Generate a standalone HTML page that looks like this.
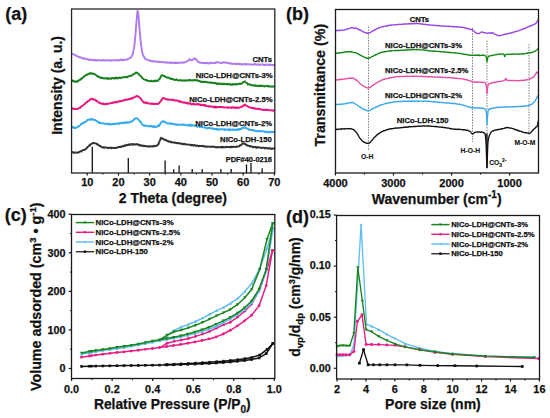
<!DOCTYPE html>
<html><head><meta charset="utf-8"><style>
html,body{margin:0;padding:0;background:#fff;width:550px;height:418px;overflow:hidden}
svg{display:block}
text{font-family:"Liberation Sans", sans-serif;stroke:currentColor;stroke-width:0.25px}
</style></head><body>
<svg width="550" height="418" viewBox="0 0 550 418">
<rect width="550" height="418" fill="#fff"/>
<path d="M72.00,53.80 L72.50,54.10 L73.00,54.19 L73.50,54.26 L74.00,54.59 L74.50,54.68 L75.00,55.17 L75.50,55.71 L76.00,55.48 L76.50,55.67 L77.00,56.19 L77.50,56.39 L78.00,56.58 L78.50,56.56 L79.00,57.03 L79.50,57.44 L80.00,57.16 L80.50,57.60 L81.00,57.43 L81.50,57.76 L82.00,57.78 L82.50,58.32 L83.00,58.20 L83.50,58.71 L84.00,58.80 L84.50,58.84 L85.00,58.37 L85.50,58.98 L86.00,59.20 L86.50,59.34 L87.00,59.02 L87.50,59.37 L88.00,59.32 L88.50,59.44 L89.00,59.97 L89.50,59.55 L90.00,59.79 L90.50,60.06 L91.00,59.73 L91.50,59.89 L92.00,59.98 L92.50,60.00 L93.00,59.71 L93.50,60.07 L94.00,60.42 L94.50,59.72 L95.00,60.35 L95.50,60.19 L96.00,60.02 L96.50,60.70 L97.00,60.41 L97.50,59.94 L98.00,60.27 L98.50,60.41 L99.00,60.23 L99.50,60.46 L100.00,60.28 L100.50,60.48 L101.00,60.68 L101.50,60.16 L102.00,60.38 L102.50,60.22 L103.00,60.38 L103.50,60.06 L104.00,60.21 L104.50,60.32 L105.00,60.60 L105.50,60.66 L106.00,60.05 L106.50,60.19 L107.00,60.55 L107.50,59.89 L108.00,60.28 L108.50,60.37 L109.00,60.71 L109.50,60.57 L110.00,60.32 L110.50,60.31 L111.00,60.33 L111.50,60.77 L112.00,60.28 L112.50,60.30 L113.00,60.45 L113.50,60.32 L114.00,60.29 L114.50,60.05 L115.00,60.30 L115.50,60.18 L116.00,60.56 L116.50,60.42 L117.00,60.23 L117.50,60.38 L118.00,60.11 L118.50,60.43 L119.00,60.14 L119.50,60.27 L120.00,59.78 L120.50,60.16 L121.00,59.63 L121.50,59.51 L122.00,59.92 L122.50,59.73 L123.00,59.96 L123.50,60.44 L124.00,59.63 L124.50,59.63 L125.00,59.78 L125.50,59.79 L126.00,59.56 L126.50,59.46 L127.00,59.57 L127.50,59.38 L128.00,58.82 L128.50,58.86 L129.00,58.66 L129.50,58.14 L130.00,58.16 L130.50,57.49 L131.00,57.45 L131.50,56.64 L132.00,55.86 L132.50,54.69 L133.00,53.14 L133.50,50.42 L134.00,47.91 L134.50,44.87 L135.00,39.26 L135.50,34.34 L136.00,27.60 L136.50,21.62 L137.00,15.58 L137.50,11.03 L138.00,11.38 L138.50,15.65 L139.00,21.87 L139.50,28.66 L140.00,34.23 L140.50,39.70 L141.00,44.46 L141.50,47.73 L142.00,51.22 L142.50,53.22 L143.00,54.99 L143.50,55.91 L144.00,56.88 L144.50,57.47 L145.00,58.69 L145.50,58.76 L146.00,59.37 L146.50,59.43 L147.00,59.52 L147.50,59.85 L148.00,60.01 L148.50,60.34 L149.00,60.41 L149.50,60.58 L150.00,60.44 L150.50,60.70 L151.00,61.41 L151.50,60.92 L152.00,60.91 L152.50,61.33 L153.00,61.67 L153.50,61.02 L154.00,61.40 L154.50,61.35 L155.00,61.12 L155.50,61.80 L156.00,61.66 L156.50,61.73 L157.00,61.57 L157.50,61.91 L158.00,61.71 L158.50,61.85 L159.00,61.64 L159.50,61.66 L160.00,62.33 L160.50,61.91 L161.00,62.15 L161.50,62.11 L162.00,62.04 L162.50,62.06 L163.00,62.38 L163.50,62.18 L164.00,62.25 L164.50,62.32 L165.00,62.64 L165.50,62.55 L166.00,62.50 L166.50,62.29 L167.00,62.11 L167.50,62.72 L168.00,62.75 L168.50,62.50 L169.00,62.69 L169.50,62.77 L170.00,62.81 L170.50,62.85 L171.00,62.53 L171.50,63.04 L172.00,62.37 L172.50,62.92 L173.00,62.85 L173.50,62.97 L174.00,63.24 L174.50,63.16 L175.00,62.52 L175.50,62.40 L176.00,63.05 L176.50,62.60 L177.00,62.87 L177.50,63.09 L178.00,62.48 L178.50,62.37 L179.00,62.96 L179.50,62.91 L180.00,62.83 L180.50,62.89 L181.00,62.64 L181.50,62.45 L182.00,62.75 L182.50,62.50 L183.00,62.28 L183.50,62.75 L184.00,62.54 L184.50,62.58 L185.00,62.15 L185.50,62.09 L186.00,61.76 L186.50,61.47 L187.00,61.39 L187.50,60.80 L188.00,60.65 L188.50,60.11 L189.00,60.06 L189.50,58.96 L190.00,59.67 L190.50,59.88 L191.00,60.37 L191.50,60.24 L192.00,60.28 L192.50,60.13 L193.00,59.48 L193.50,59.09 L194.00,58.53 L194.50,58.55 L195.00,58.26 L195.50,58.32 L196.00,59.58 L196.50,60.01 L197.00,60.12 L197.50,61.21 L198.00,62.04 L198.50,62.04 L199.00,62.00 L199.50,62.26 L200.00,62.88 L200.50,62.70 L201.00,62.73 L201.50,62.76 L202.00,62.83 L202.50,63.07 L203.00,63.05 L203.50,63.01 L204.00,62.73 L204.50,63.15 L205.00,62.89 L205.50,63.36 L206.00,62.79 L206.50,63.10 L207.00,63.15 L207.50,62.83 L208.00,63.61 L208.50,63.55 L209.00,63.08 L209.50,63.39 L210.00,63.29 L210.50,62.54 L211.00,63.24 L211.50,63.13 L212.00,63.13 L212.50,62.79 L213.00,62.94 L213.50,62.90 L214.00,63.18 L214.50,62.90 L215.00,62.74 L215.50,63.05 L216.00,62.46 L216.50,62.41 L217.00,61.92 L217.50,62.63 L218.00,62.38 L218.50,62.33 L219.00,62.36 L219.50,62.44 L220.00,62.74 L220.50,62.84 L221.00,62.95 L221.50,62.96 L222.00,63.20 L222.50,62.79 L223.00,62.47 L223.50,62.21 L224.00,62.14 L224.50,62.72 L225.00,62.50 L225.50,62.48 L226.00,62.49 L226.50,62.42 L227.00,62.82 L227.50,63.19 L228.00,63.01 L228.50,63.18 L229.00,63.29 L229.50,63.47 L230.00,63.10 L230.50,63.48 L231.00,63.37 L231.50,63.84 L232.00,63.46 L232.50,63.84 L233.00,64.10 L233.50,63.68 L234.00,63.63 L234.50,63.86 L235.00,63.84 L235.50,63.61 L236.00,64.00 L236.50,64.41 L237.00,63.86 L237.50,63.90 L238.00,63.71 L238.50,64.07 L239.00,63.69 L239.50,63.75 L240.00,64.36 L240.50,63.84 L241.00,64.35 L241.50,64.48 L242.00,64.18 L242.50,64.28 L243.00,64.64 L243.50,64.12 L244.00,64.04 L244.50,63.87 L245.00,64.23 L245.50,64.61 L246.00,64.49 L246.50,64.03 L247.00,64.07 L247.50,64.17 L248.00,64.38 L248.50,64.27 L249.00,64.39 L249.50,64.43 L250.00,64.29 L250.50,64.37 L251.00,64.44 L251.50,64.38 L252.00,64.54 L252.50,64.90 L253.00,64.59 L253.50,64.47 L254.00,64.05 L254.50,64.58 L255.00,64.01 L255.50,64.16 L256.00,64.74 L256.50,64.72 L257.00,64.52 L257.50,64.14 L258.00,64.49 L258.50,64.43 L259.00,64.77 L259.50,65.19 L260.00,64.69 L260.50,64.45 L261.00,64.37 L261.50,64.66 L262.00,64.65 L262.50,64.41 L263.00,64.74 L263.50,64.44 L264.00,65.02 L264.50,65.02 L265.00,65.04 L265.50,64.66 L266.00,64.92 L266.50,64.77 L267.00,64.72 L267.50,64.75 L268.00,64.52 L268.50,64.50 L269.00,65.07 L269.50,64.83 L270.00,64.95 L270.50,65.16 L271.00,64.49 L271.50,64.73 L272.00,64.99 L272.50,65.05 L273.00,64.87 L273.50,65.24 L274.00,65.04 L274.40,64.70" fill="none" stroke="#b07af0" stroke-width="1.9" stroke-linejoin="round" stroke-linecap="round" />
<path d="M72.00,80.27 L72.50,80.97 L73.00,81.10 L73.50,80.69 L74.00,81.63 L74.50,81.54 L75.00,81.79 L75.50,81.39 L76.00,81.43 L76.50,81.19 L77.00,81.99 L77.50,81.14 L78.00,81.35 L78.50,80.52 L79.00,80.43 L79.50,79.67 L80.00,79.70 L80.50,79.73 L81.00,78.81 L81.50,78.99 L82.00,78.38 L82.50,77.61 L83.00,77.33 L83.50,76.96 L84.00,76.70 L84.50,76.23 L85.00,75.81 L85.50,75.60 L86.00,75.10 L86.50,74.74 L87.00,74.79 L87.50,74.76 L88.00,73.89 L88.50,74.01 L89.00,73.61 L89.50,73.33 L90.00,73.66 L90.50,73.27 L91.00,73.79 L91.50,73.26 L92.00,73.62 L92.50,73.55 L93.00,73.51 L93.50,73.96 L94.00,73.89 L94.50,74.27 L95.00,74.39 L95.50,74.48 L96.00,75.12 L96.50,75.57 L97.00,76.21 L97.50,76.13 L98.00,76.68 L98.50,76.53 L99.00,77.33 L99.50,77.09 L100.00,77.10 L100.50,77.72 L101.00,78.17 L101.50,77.66 L102.00,77.89 L102.50,78.06 L103.00,78.02 L103.50,78.43 L104.00,78.16 L104.50,78.21 L105.00,78.56 L105.50,78.25 L106.00,78.57 L106.50,78.23 L107.00,78.18 L107.50,78.04 L108.00,78.96 L108.50,78.42 L109.00,78.56 L109.50,78.48 L110.00,78.52 L110.50,78.48 L111.00,78.93 L111.50,78.18 L112.00,78.03 L112.50,78.14 L113.00,78.04 L113.50,78.54 L114.00,78.53 L114.50,78.06 L115.00,77.92 L115.50,78.15 L116.00,78.56 L116.50,77.47 L117.00,78.28 L117.50,77.84 L118.00,78.34 L118.50,77.77 L119.00,77.93 L119.50,77.57 L120.00,77.65 L120.50,78.19 L121.00,77.99 L121.50,77.62 L122.00,77.43 L122.50,77.11 L123.00,77.41 L123.50,77.43 L124.00,77.34 L124.50,77.26 L125.00,76.92 L125.50,77.10 L126.00,77.02 L126.50,77.26 L127.00,77.31 L127.50,76.70 L128.00,76.44 L128.50,76.49 L129.00,76.23 L129.50,76.06 L130.00,76.09 L130.50,75.67 L131.00,75.89 L131.50,75.50 L132.00,75.35 L132.50,74.99 L133.00,74.59 L133.50,74.26 L134.00,74.10 L134.50,73.60 L135.00,73.37 L135.50,72.97 L136.00,72.46 L136.50,72.87 L137.00,72.71 L137.50,73.19 L138.00,73.65 L138.50,73.63 L139.00,74.61 L139.50,75.04 L140.00,75.40 L140.50,75.87 L141.00,76.46 L141.50,76.90 L142.00,77.66 L142.50,78.13 L143.00,78.74 L143.50,78.75 L144.00,79.35 L144.50,79.55 L145.00,79.70 L145.50,79.83 L146.00,80.28 L146.50,79.91 L147.00,80.61 L147.50,80.70 L148.00,80.85 L148.50,80.98 L149.00,80.81 L149.50,80.98 L150.00,81.25 L150.50,81.21 L151.00,81.15 L151.50,80.72 L152.00,81.23 L152.50,81.39 L153.00,81.35 L153.50,81.16 L154.00,80.71 L154.50,81.34 L155.00,81.06 L155.50,80.47 L156.00,81.19 L156.50,80.73 L157.00,80.78 L157.50,80.83 L158.00,80.91 L158.50,79.90 L159.00,79.38 L159.50,79.08 L160.00,78.40 L160.50,77.16 L161.00,76.28 L161.50,75.34 L162.00,75.14 L162.50,75.44 L163.00,75.55 L163.50,75.68 L164.00,76.14 L164.50,75.98 L165.00,76.44 L165.50,76.91 L166.00,77.12 L166.50,77.44 L167.00,77.47 L167.50,77.49 L168.00,77.86 L168.50,77.73 L169.00,77.77 L169.50,78.53 L170.00,78.56 L170.50,78.84 L171.00,78.51 L171.50,79.01 L172.00,79.10 L172.50,79.17 L173.00,78.94 L173.50,79.52 L174.00,79.90 L174.50,79.83 L175.00,79.63 L175.50,79.83 L176.00,80.07 L176.50,79.24 L177.00,79.94 L177.50,80.15 L178.00,80.23 L178.50,80.52 L179.00,80.41 L179.50,80.24 L180.00,80.27 L180.50,80.43 L181.00,80.12 L181.50,80.27 L182.00,80.53 L182.50,80.82 L183.00,80.31 L183.50,80.35 L184.00,80.43 L184.50,80.72 L185.00,80.39 L185.50,80.77 L186.00,80.16 L186.50,80.35 L187.00,80.34 L187.50,80.58 L188.00,80.64 L188.50,79.99 L189.00,80.12 L189.50,80.42 L190.00,80.16 L190.50,79.92 L191.00,80.55 L191.50,80.40 L192.00,80.38 L192.50,80.12 L193.00,80.49 L193.50,80.16 L194.00,80.48 L194.50,79.98 L195.00,79.99 L195.50,80.26 L196.00,80.07 L196.50,80.49 L197.00,80.49 L197.50,80.33 L198.00,80.71 L198.50,80.75 L199.00,81.20 L199.50,80.94 L200.00,81.09 L200.50,81.59 L201.00,81.93 L201.50,81.96 L202.00,81.55 L202.50,81.67 L203.00,82.08 L203.50,81.74 L204.00,81.60 L204.50,81.95 L205.00,82.11 L205.50,81.86 L206.00,81.72 L206.50,81.84 L207.00,82.43 L207.50,82.14 L208.00,82.36 L208.50,82.51 L209.00,82.67 L209.50,82.49 L210.00,82.76 L210.50,82.47 L211.00,82.66 L211.50,82.55 L212.00,83.15 L212.50,82.91 L213.00,82.79 L213.50,82.94 L214.00,83.03 L214.50,83.31 L215.00,82.79 L215.50,82.98 L216.00,83.19 L216.50,83.97 L217.00,83.62 L217.50,83.40 L218.00,83.65 L218.50,84.03 L219.00,83.51 L219.50,83.51 L220.00,83.95 L220.50,83.81 L221.00,83.89 L221.50,83.64 L222.00,84.28 L222.50,84.26 L223.00,84.01 L223.50,84.08 L224.00,83.44 L224.50,84.15 L225.00,83.98 L225.50,84.17 L226.00,84.27 L226.50,84.05 L227.00,83.75 L227.50,84.30 L228.00,84.06 L228.50,84.20 L229.00,84.16 L229.50,84.25 L230.00,83.79 L230.50,84.70 L231.00,84.48 L231.50,84.72 L232.00,84.95 L232.50,84.48 L233.00,84.03 L233.50,84.27 L234.00,84.20 L234.50,84.37 L235.00,84.51 L235.50,83.97 L236.00,84.51 L236.50,84.00 L237.00,84.39 L237.50,84.21 L238.00,84.09 L238.50,84.06 L239.00,83.87 L239.50,83.75 L240.00,83.36 L240.50,83.64 L241.00,83.94 L241.50,83.80 L242.00,83.37 L242.50,82.84 L243.00,82.09 L243.50,82.24 L244.00,81.59 L244.50,81.48 L245.00,81.55 L245.50,81.97 L246.00,82.29 L246.50,82.87 L247.00,83.08 L247.50,83.61 L248.00,84.48 L248.50,84.08 L249.00,84.20 L249.50,84.56 L250.00,84.75 L250.50,84.44 L251.00,84.79 L251.50,85.20 L252.00,85.15 L252.50,85.21 L253.00,85.67 L253.50,85.19 L254.00,85.46 L254.50,85.38 L255.00,85.94 L255.50,85.13 L256.00,85.50 L256.50,85.58 L257.00,85.92 L257.50,85.95 L258.00,86.18 L258.50,85.47 L259.00,86.09 L259.50,85.86 L260.00,85.80 L260.50,86.13 L261.00,85.79 L261.50,85.52 L262.00,85.97 L262.50,85.72 L263.00,85.95 L263.50,86.23 L264.00,86.24 L264.50,86.58 L265.00,86.15 L265.50,85.84 L266.00,86.05 L266.50,86.03 L267.00,85.98 L267.50,86.41 L268.00,86.16 L268.50,85.84 L269.00,86.53 L269.50,86.34 L270.00,86.48 L270.50,86.43 L271.00,86.58 L271.50,86.44 L272.00,86.76 L272.50,86.57 L273.00,86.57 L273.50,86.59 L274.00,86.13 L274.40,86.46" fill="none" stroke="#16801c" stroke-width="1.9" stroke-linejoin="round" stroke-linecap="round" />
<path d="M72.00,108.34 L72.50,108.65 L73.00,108.41 L73.50,109.28 L74.00,108.99 L74.50,108.72 L75.00,108.64 L75.50,109.02 L76.00,109.07 L76.50,108.92 L77.00,109.11 L77.50,108.81 L78.00,108.89 L78.50,108.29 L79.00,108.14 L79.50,108.06 L80.00,108.14 L80.50,106.95 L81.00,106.76 L81.50,106.33 L82.00,106.38 L82.50,105.53 L83.00,105.33 L83.50,105.07 L84.00,104.45 L84.50,104.05 L85.00,103.75 L85.50,102.91 L86.00,102.65 L86.50,102.49 L87.00,102.22 L87.50,101.75 L88.00,100.96 L88.50,100.85 L89.00,100.72 L89.50,100.22 L90.00,99.65 L90.50,99.11 L91.00,99.23 L91.50,98.78 L92.00,98.61 L92.50,98.76 L93.00,99.42 L93.50,99.25 L94.00,99.63 L94.50,99.38 L95.00,99.93 L95.50,99.82 L96.00,100.25 L96.50,101.29 L97.00,101.25 L97.50,101.35 L98.00,101.86 L98.50,102.35 L99.00,102.93 L99.50,102.82 L100.00,102.75 L100.50,103.29 L101.00,103.46 L101.50,103.56 L102.00,103.94 L102.50,103.76 L103.00,103.95 L103.50,103.52 L104.00,104.06 L104.50,104.40 L105.00,104.09 L105.50,103.96 L106.00,103.93 L106.50,104.32 L107.00,103.61 L107.50,103.76 L108.00,103.85 L108.50,103.85 L109.00,103.48 L109.50,103.58 L110.00,103.34 L110.50,103.33 L111.00,103.16 L111.50,102.80 L112.00,102.96 L112.50,103.06 L113.00,102.48 L113.50,102.54 L114.00,102.64 L114.50,102.08 L115.00,102.27 L115.50,101.83 L116.00,102.26 L116.50,102.44 L117.00,102.25 L117.50,101.59 L118.00,101.72 L118.50,101.47 L119.00,101.36 L119.50,101.62 L120.00,100.80 L120.50,101.29 L121.00,100.90 L121.50,101.16 L122.00,100.75 L122.50,100.43 L123.00,100.56 L123.50,100.56 L124.00,100.27 L124.50,100.27 L125.00,99.91 L125.50,99.39 L126.00,100.03 L126.50,99.87 L127.00,99.61 L127.50,99.47 L128.00,99.59 L128.50,99.11 L129.00,98.93 L129.50,98.94 L130.00,99.17 L130.50,98.40 L131.00,98.92 L131.50,98.32 L132.00,98.06 L132.50,98.49 L133.00,97.98 L133.50,97.44 L134.00,97.37 L134.50,97.35 L135.00,97.06 L135.50,96.33 L136.00,96.28 L136.50,96.21 L137.00,95.85 L137.50,96.25 L138.00,96.41 L138.50,96.63 L139.00,97.01 L139.50,97.52 L140.00,97.92 L140.50,98.27 L141.00,98.89 L141.50,99.89 L142.00,100.28 L142.50,101.05 L143.00,101.67 L143.50,101.97 L144.00,102.73 L144.50,102.16 L145.00,102.73 L145.50,102.60 L146.00,103.27 L146.50,103.35 L147.00,102.55 L147.50,102.89 L148.00,103.38 L148.50,103.50 L149.00,103.55 L149.50,103.42 L150.00,103.61 L150.50,103.72 L151.00,103.60 L151.50,103.94 L152.00,103.18 L152.50,103.96 L153.00,103.59 L153.50,104.14 L154.00,103.89 L154.50,103.77 L155.00,104.12 L155.50,103.83 L156.00,103.85 L156.50,103.70 L157.00,104.09 L157.50,104.17 L158.00,104.08 L158.50,103.44 L159.00,103.28 L159.50,102.50 L160.00,101.91 L160.50,101.50 L161.00,101.06 L161.50,99.99 L162.00,99.12 L162.50,98.38 L163.00,98.12 L163.50,97.93 L164.00,98.54 L164.50,98.37 L165.00,98.79 L165.50,98.65 L166.00,99.09 L166.50,99.20 L167.00,99.09 L167.50,99.79 L168.00,99.46 L168.50,99.89 L169.00,99.76 L169.50,99.42 L170.00,99.56 L170.50,99.84 L171.00,99.81 L171.50,99.88 L172.00,99.88 L172.50,99.58 L173.00,100.06 L173.50,99.66 L174.00,100.40 L174.50,100.22 L175.00,100.33 L175.50,100.55 L176.00,100.78 L176.50,100.46 L177.00,100.49 L177.50,100.77 L178.00,100.63 L178.50,101.01 L179.00,101.76 L179.50,101.21 L180.00,101.74 L180.50,101.34 L181.00,101.87 L181.50,101.82 L182.00,101.99 L182.50,102.25 L183.00,102.65 L183.50,102.37 L184.00,102.47 L184.50,102.30 L185.00,102.81 L185.50,102.72 L186.00,103.10 L186.50,103.00 L187.00,103.56 L187.50,102.74 L188.00,103.27 L188.50,103.67 L189.00,103.46 L189.50,103.45 L190.00,103.67 L190.50,103.48 L191.00,103.93 L191.50,104.58 L192.00,104.32 L192.50,103.81 L193.00,103.92 L193.50,104.08 L194.00,104.47 L194.50,104.04 L195.00,104.11 L195.50,104.53 L196.00,104.55 L196.50,104.27 L197.00,104.11 L197.50,104.03 L198.00,104.27 L198.50,103.92 L199.00,104.70 L199.50,104.40 L200.00,104.72 L200.50,105.12 L201.00,105.02 L201.50,104.52 L202.00,105.12 L202.50,105.30 L203.00,104.93 L203.50,104.99 L204.00,105.32 L204.50,105.07 L205.00,105.96 L205.50,105.12 L206.00,105.56 L206.50,105.89 L207.00,106.01 L207.50,106.21 L208.00,106.33 L208.50,106.30 L209.00,106.71 L209.50,105.95 L210.00,106.53 L210.50,106.39 L211.00,106.64 L211.50,106.70 L212.00,106.46 L212.50,106.56 L213.00,106.95 L213.50,106.87 L214.00,106.64 L214.50,107.35 L215.00,107.45 L215.50,106.53 L216.00,107.00 L216.50,107.58 L217.00,107.17 L217.50,107.05 L218.00,106.97 L218.50,106.91 L219.00,107.01 L219.50,106.95 L220.00,107.30 L220.50,107.03 L221.00,107.04 L221.50,106.88 L222.00,107.19 L222.50,107.00 L223.00,107.20 L223.50,107.53 L224.00,107.39 L224.50,107.45 L225.00,107.44 L225.50,107.40 L226.00,107.38 L226.50,107.36 L227.00,107.65 L227.50,107.22 L228.00,107.85 L228.50,107.54 L229.00,107.37 L229.50,107.46 L230.00,107.43 L230.50,107.66 L231.00,107.46 L231.50,107.94 L232.00,107.47 L232.50,107.11 L233.00,107.50 L233.50,107.19 L234.00,107.69 L234.50,107.96 L235.00,107.86 L235.50,107.35 L236.00,107.47 L236.50,108.08 L237.00,107.68 L237.50,107.56 L238.00,107.78 L238.50,108.07 L239.00,107.72 L239.50,107.37 L240.00,107.35 L240.50,107.33 L241.00,106.94 L241.50,106.74 L242.00,106.82 L242.50,106.21 L243.00,105.99 L243.50,105.57 L244.00,105.73 L244.50,104.66 L245.00,104.77 L245.50,104.90 L246.00,105.34 L246.50,105.89 L247.00,105.93 L247.50,106.26 L248.00,106.40 L248.50,106.80 L249.00,107.33 L249.50,107.36 L250.00,107.24 L250.50,107.54 L251.00,107.77 L251.50,108.01 L252.00,107.86 L252.50,108.05 L253.00,107.76 L253.50,108.03 L254.00,108.81 L254.50,107.95 L255.00,108.49 L255.50,108.71 L256.00,108.64 L256.50,108.60 L257.00,108.85 L257.50,108.93 L258.00,108.98 L258.50,108.59 L259.00,109.09 L259.50,108.97 L260.00,109.11 L260.50,109.37 L261.00,109.53 L261.50,109.66 L262.00,109.37 L262.50,109.78 L263.00,109.90 L263.50,109.95 L264.00,110.06 L264.50,109.73 L265.00,109.78 L265.50,110.08 L266.00,109.58 L266.50,110.02 L267.00,109.88 L267.50,109.97 L268.00,109.66 L268.50,109.92 L269.00,110.17 L269.50,110.43 L270.00,110.49 L270.50,110.25 L271.00,110.25 L271.50,110.11 L272.00,110.44 L272.50,110.30 L273.00,110.53 L273.50,110.83 L274.00,110.39 L274.40,110.03" fill="none" stroke="#e8167c" stroke-width="1.9" stroke-linejoin="round" stroke-linecap="round" />
<path d="M72.00,126.58 L72.50,126.78 L73.00,127.11 L73.50,127.94 L74.00,127.81 L74.50,127.46 L75.00,128.05 L75.50,128.22 L76.00,127.73 L76.50,127.44 L77.00,127.22 L77.50,127.01 L78.00,126.70 L78.50,126.44 L79.00,126.10 L79.50,125.77 L80.00,125.47 L80.50,124.94 L81.00,124.03 L81.50,124.03 L82.00,123.79 L82.50,123.28 L83.00,123.28 L83.50,122.67 L84.00,122.24 L84.50,122.54 L85.00,122.05 L85.50,121.63 L86.00,121.50 L86.50,121.23 L87.00,120.76 L87.50,119.79 L88.00,119.98 L88.50,119.80 L89.00,119.47 L89.50,119.60 L90.00,119.72 L90.50,119.22 L91.00,119.02 L91.50,119.82 L92.00,119.24 L92.50,119.12 L93.00,119.58 L93.50,119.72 L94.00,119.55 L94.50,120.07 L95.00,119.95 L95.50,120.09 L96.00,120.65 L96.50,121.10 L97.00,121.07 L97.50,121.62 L98.00,121.82 L98.50,122.82 L99.00,122.19 L99.50,122.91 L100.00,122.69 L100.50,122.78 L101.00,123.09 L101.50,123.24 L102.00,123.43 L102.50,123.29 L103.00,123.15 L103.50,123.25 L104.00,123.60 L104.50,123.70 L105.00,123.98 L105.50,123.81 L106.00,124.03 L106.50,124.21 L107.00,123.92 L107.50,123.56 L108.00,123.68 L108.50,123.66 L109.00,124.44 L109.50,123.86 L110.00,124.40 L110.50,124.24 L111.00,124.53 L111.50,124.35 L112.00,124.06 L112.50,124.02 L113.00,124.07 L113.50,124.06 L114.00,123.85 L114.50,123.94 L115.00,124.31 L115.50,123.43 L116.00,123.87 L116.50,123.53 L117.00,123.75 L117.50,123.85 L118.00,123.57 L118.50,123.71 L119.00,123.05 L119.50,123.66 L120.00,123.17 L120.50,123.40 L121.00,123.22 L121.50,122.46 L122.00,122.85 L122.50,123.02 L123.00,123.29 L123.50,122.90 L124.00,122.83 L124.50,122.35 L125.00,123.00 L125.50,123.03 L126.00,122.52 L126.50,122.40 L127.00,121.99 L127.50,122.55 L128.00,122.94 L128.50,122.37 L129.00,122.43 L129.50,122.16 L130.00,121.68 L130.50,122.15 L131.00,121.39 L131.50,121.52 L132.00,121.41 L132.50,121.22 L133.00,120.68 L133.50,120.22 L134.00,119.47 L134.50,118.91 L135.00,118.89 L135.50,118.44 L136.00,118.18 L136.50,118.23 L137.00,118.61 L137.50,118.57 L138.00,119.07 L138.50,119.42 L139.00,120.32 L139.50,120.80 L140.00,121.70 L140.50,121.47 L141.00,122.40 L141.50,123.55 L142.00,124.00 L142.50,124.60 L143.00,125.61 L143.50,125.39 L144.00,125.30 L144.50,125.36 L145.00,125.87 L145.50,125.94 L146.00,125.59 L146.50,125.75 L147.00,126.18 L147.50,126.24 L148.00,125.98 L148.50,126.34 L149.00,126.37 L149.50,125.82 L150.00,126.22 L150.50,126.44 L151.00,126.24 L151.50,125.88 L152.00,126.39 L152.50,126.68 L153.00,126.93 L153.50,126.02 L154.00,127.25 L154.50,126.34 L155.00,126.89 L155.50,126.98 L156.00,126.93 L156.50,126.73 L157.00,126.41 L157.50,126.77 L158.00,126.12 L158.50,125.20 L159.00,125.99 L159.50,124.89 L160.00,124.58 L160.50,123.07 L161.00,122.78 L161.50,122.08 L162.00,121.70 L162.50,121.33 L163.00,121.14 L163.50,121.58 L164.00,121.29 L164.50,121.65 L165.00,122.34 L165.50,122.29 L166.00,122.68 L166.50,122.82 L167.00,123.43 L167.50,123.38 L168.00,123.15 L168.50,123.56 L169.00,123.16 L169.50,123.36 L170.00,123.76 L170.50,123.31 L171.00,123.63 L171.50,123.45 L172.00,123.88 L172.50,124.34 L173.00,123.81 L173.50,124.13 L174.00,123.91 L174.50,123.91 L175.00,123.95 L175.50,124.68 L176.00,124.96 L176.50,124.55 L177.00,124.30 L177.50,124.70 L178.00,124.49 L178.50,124.82 L179.00,124.73 L179.50,124.77 L180.00,124.89 L180.50,124.63 L181.00,124.70 L181.50,124.40 L182.00,124.75 L182.50,124.53 L183.00,124.88 L183.50,124.70 L184.00,124.98 L184.50,125.09 L185.00,124.65 L185.50,124.82 L186.00,124.80 L186.50,125.25 L187.00,125.51 L187.50,125.31 L188.00,125.04 L188.50,125.51 L189.00,124.79 L189.50,125.57 L190.00,125.06 L190.50,124.56 L191.00,125.95 L191.50,125.71 L192.00,125.09 L192.50,125.43 L193.00,125.38 L193.50,125.51 L194.00,125.18 L194.50,125.45 L195.00,125.81 L195.50,125.83 L196.00,126.17 L196.50,125.98 L197.00,126.64 L197.50,125.98 L198.00,126.33 L198.50,125.89 L199.00,126.16 L199.50,126.91 L200.00,126.45 L200.50,126.93 L201.00,126.88 L201.50,126.74 L202.00,127.01 L202.50,127.07 L203.00,127.17 L203.50,127.56 L204.00,127.62 L204.50,127.39 L205.00,127.37 L205.50,127.73 L206.00,127.70 L206.50,128.05 L207.00,128.52 L207.50,128.13 L208.00,127.98 L208.50,128.01 L209.00,127.90 L209.50,127.95 L210.00,127.99 L210.50,128.20 L211.00,128.25 L211.50,128.61 L212.00,128.38 L212.50,128.49 L213.00,128.29 L213.50,129.07 L214.00,128.84 L214.50,129.21 L215.00,129.02 L215.50,129.24 L216.00,128.86 L216.50,129.15 L217.00,129.70 L217.50,128.76 L218.00,129.40 L218.50,129.58 L219.00,129.30 L219.50,129.42 L220.00,129.59 L220.50,129.14 L221.00,129.44 L221.50,129.14 L222.00,129.22 L222.50,129.26 L223.00,129.41 L223.50,129.50 L224.00,129.60 L224.50,129.13 L225.00,130.01 L225.50,129.82 L226.00,129.72 L226.50,129.45 L227.00,129.53 L227.50,129.71 L228.00,129.68 L228.50,129.16 L229.00,129.79 L229.50,130.36 L230.00,129.14 L230.50,129.88 L231.00,129.73 L231.50,129.62 L232.00,130.00 L232.50,129.36 L233.00,129.71 L233.50,130.05 L234.00,129.63 L234.50,129.58 L235.00,129.72 L235.50,129.58 L236.00,130.09 L236.50,129.46 L237.00,129.92 L237.50,129.38 L238.00,129.87 L238.50,129.63 L239.00,128.90 L239.50,129.43 L240.00,129.00 L240.50,128.99 L241.00,129.31 L241.50,128.34 L242.00,127.98 L242.50,128.24 L243.00,127.58 L243.50,127.73 L244.00,127.39 L244.50,127.15 L245.00,127.50 L245.50,128.02 L246.00,128.17 L246.50,128.19 L247.00,128.48 L247.50,128.72 L248.00,128.87 L248.50,129.76 L249.00,129.48 L249.50,129.36 L250.00,129.65 L250.50,130.07 L251.00,130.15 L251.50,130.05 L252.00,130.01 L252.50,130.28 L253.00,129.93 L253.50,130.11 L254.00,130.74 L254.50,130.48 L255.00,130.78 L255.50,131.07 L256.00,130.99 L256.50,130.89 L257.00,131.50 L257.50,131.18 L258.00,130.98 L258.50,131.31 L259.00,131.28 L259.50,131.01 L260.00,131.30 L260.50,131.29 L261.00,130.87 L261.50,131.38 L262.00,131.40 L262.50,131.41 L263.00,131.15 L263.50,131.52 L264.00,131.65 L264.50,131.73 L265.00,131.46 L265.50,131.95 L266.00,131.52 L266.50,131.81 L267.00,132.25 L267.50,131.77 L268.00,131.85 L268.50,132.30 L269.00,131.95 L269.50,132.01 L270.00,132.17 L270.50,132.41 L271.00,131.60 L271.50,131.98 L272.00,131.96 L272.50,131.96 L273.00,132.04 L273.50,132.06 L274.00,132.37 L274.40,132.07" fill="none" stroke="#34abef" stroke-width="1.9" stroke-linejoin="round" stroke-linecap="round" />
<path d="M72.00,152.03 L72.50,152.29 L73.00,152.15 L73.50,152.49 L74.00,152.96 L74.50,152.69 L75.00,152.49 L75.50,152.66 L76.00,152.46 L76.50,152.77 L77.00,152.91 L77.50,152.42 L78.00,152.45 L78.50,152.61 L79.00,151.99 L79.50,151.94 L80.00,151.39 L80.50,151.21 L81.00,151.07 L81.50,151.54 L82.00,150.68 L82.50,150.44 L83.00,150.21 L83.50,150.07 L84.00,150.02 L84.50,149.64 L85.00,149.81 L85.50,149.02 L86.00,148.95 L86.50,148.24 L87.00,147.88 L87.50,146.91 L88.00,146.79 L88.50,146.38 L89.00,145.94 L89.50,145.06 L90.00,145.37 L90.50,144.59 L91.00,144.13 L91.50,143.77 L92.00,143.43 L92.50,143.34 L93.00,142.79 L93.50,142.88 L94.00,143.24 L94.50,143.30 L95.00,143.30 L95.50,143.40 L96.00,143.49 L96.50,143.85 L97.00,144.35 L97.50,144.05 L98.00,145.00 L98.50,145.19 L99.00,145.24 L99.50,145.94 L100.00,145.76 L100.50,146.06 L101.00,146.50 L101.50,147.01 L102.00,147.25 L102.50,147.34 L103.00,147.56 L103.50,147.05 L104.00,147.76 L104.50,147.33 L105.00,147.57 L105.50,147.67 L106.00,147.52 L106.50,147.51 L107.00,147.63 L107.50,147.91 L108.00,148.08 L108.50,148.09 L109.00,147.72 L109.50,147.79 L110.00,147.76 L110.50,148.11 L111.00,147.49 L111.50,148.30 L112.00,147.86 L112.50,147.76 L113.00,148.01 L113.50,148.14 L114.00,147.92 L114.50,148.04 L115.00,147.76 L115.50,147.96 L116.00,147.90 L116.50,147.49 L117.00,147.80 L117.50,147.40 L118.00,147.29 L118.50,146.96 L119.00,147.03 L119.50,147.20 L120.00,146.59 L120.50,146.99 L121.00,146.83 L121.50,146.72 L122.00,146.01 L122.50,146.43 L123.00,146.50 L123.50,146.01 L124.00,146.07 L124.50,145.30 L125.00,145.90 L125.50,145.40 L126.00,145.62 L126.50,144.78 L127.00,145.26 L127.50,144.89 L128.00,145.02 L128.50,144.48 L129.00,144.46 L129.50,145.10 L130.00,144.29 L130.50,144.29 L131.00,144.37 L131.50,144.16 L132.00,144.69 L132.50,144.80 L133.00,144.17 L133.50,143.90 L134.00,144.61 L134.50,144.59 L135.00,144.51 L135.50,144.59 L136.00,144.10 L136.50,144.31 L137.00,144.07 L137.50,144.14 L138.00,144.83 L138.50,144.53 L139.00,145.39 L139.50,144.96 L140.00,144.91 L140.50,145.41 L141.00,145.79 L141.50,145.59 L142.00,145.29 L142.50,145.80 L143.00,146.15 L143.50,145.76 L144.00,145.77 L144.50,146.29 L145.00,146.15 L145.50,145.92 L146.00,146.17 L146.50,146.13 L147.00,146.44 L147.50,146.42 L148.00,146.69 L148.50,146.58 L149.00,146.01 L149.50,146.49 L150.00,146.61 L150.50,146.49 L151.00,146.63 L151.50,146.22 L152.00,146.11 L152.50,146.56 L153.00,146.04 L153.50,145.75 L154.00,146.52 L154.50,146.06 L155.00,146.13 L155.50,145.82 L156.00,145.80 L156.50,145.80 L157.00,145.75 L157.50,145.47 L158.00,144.23 L158.50,144.12 L159.00,142.44 L159.50,141.31 L160.00,140.37 L160.50,138.84 L161.00,137.74 L161.50,138.60 L162.00,138.08 L162.50,138.60 L163.00,138.86 L163.50,139.46 L164.00,139.25 L164.50,139.83 L165.00,139.59 L165.50,140.26 L166.00,139.99 L166.50,140.30 L167.00,141.06 L167.50,140.87 L168.00,141.01 L168.50,141.74 L169.00,141.45 L169.50,141.34 L170.00,141.90 L170.50,141.58 L171.00,142.31 L171.50,142.47 L172.00,142.16 L172.50,142.26 L173.00,142.56 L173.50,142.62 L174.00,142.46 L174.50,142.93 L175.00,142.36 L175.50,142.84 L176.00,142.92 L176.50,143.03 L177.00,143.24 L177.50,142.92 L178.00,143.44 L178.50,143.31 L179.00,143.25 L179.50,143.13 L180.00,143.24 L180.50,143.68 L181.00,143.40 L181.50,143.71 L182.00,144.02 L182.50,144.06 L183.00,144.25 L183.50,143.84 L184.00,143.70 L184.50,144.28 L185.00,144.16 L185.50,144.42 L186.00,144.20 L186.50,144.56 L187.00,144.54 L187.50,144.57 L188.00,144.58 L188.50,144.62 L189.00,144.64 L189.50,144.71 L190.00,144.97 L190.50,144.66 L191.00,145.29 L191.50,144.90 L192.00,145.24 L192.50,145.04 L193.00,145.07 L193.50,145.71 L194.00,145.19 L194.50,145.01 L195.00,145.22 L195.50,145.38 L196.00,146.07 L196.50,145.64 L197.00,145.89 L197.50,145.46 L198.00,145.86 L198.50,146.00 L199.00,146.34 L199.50,145.77 L200.00,146.14 L200.50,146.12 L201.00,145.84 L201.50,146.14 L202.00,146.12 L202.50,145.65 L203.00,146.42 L203.50,146.44 L204.00,146.23 L204.50,146.04 L205.00,146.77 L205.50,146.49 L206.00,146.71 L206.50,146.83 L207.00,146.38 L207.50,146.74 L208.00,146.50 L208.50,146.57 L209.00,146.59 L209.50,146.64 L210.00,146.94 L210.50,146.72 L211.00,146.68 L211.50,146.67 L212.00,146.85 L212.50,146.56 L213.00,146.68 L213.50,146.82 L214.00,146.71 L214.50,146.84 L215.00,146.74 L215.50,147.41 L216.00,147.26 L216.50,147.06 L217.00,146.95 L217.50,147.53 L218.00,147.07 L218.50,146.99 L219.00,147.10 L219.50,147.11 L220.00,147.40 L220.50,147.05 L221.00,147.59 L221.50,146.85 L222.00,147.26 L222.50,146.84 L223.00,147.55 L223.50,147.01 L224.00,147.08 L224.50,147.33 L225.00,147.41 L225.50,146.82 L226.00,147.01 L226.50,146.75 L227.00,147.13 L227.50,147.06 L228.00,146.99 L228.50,146.90 L229.00,146.97 L229.50,146.87 L230.00,147.18 L230.50,147.42 L231.00,146.54 L231.50,146.98 L232.00,146.89 L232.50,147.10 L233.00,146.73 L233.50,146.91 L234.00,146.67 L234.50,147.08 L235.00,146.91 L235.50,146.82 L236.00,146.93 L236.50,146.74 L237.00,146.36 L237.50,146.78 L238.00,146.52 L238.50,146.19 L239.00,146.24 L239.50,146.05 L240.00,145.23 L240.50,145.02 L241.00,145.23 L241.50,144.81 L242.00,143.92 L242.50,143.54 L243.00,143.54 L243.50,143.60 L244.00,143.43 L244.50,144.00 L245.00,143.89 L245.50,144.16 L246.00,144.95 L246.50,144.82 L247.00,145.24 L247.50,145.65 L248.00,145.89 L248.50,145.74 L249.00,145.95 L249.50,145.85 L250.00,146.60 L250.50,146.44 L251.00,146.10 L251.50,146.48 L252.00,146.75 L252.50,146.79 L253.00,147.21 L253.50,147.18 L254.00,146.79 L254.50,146.98 L255.00,146.76 L255.50,147.21 L256.00,147.26 L256.50,147.96 L257.00,147.38 L257.50,146.89 L258.00,147.30 L258.50,147.56 L259.00,147.27 L259.50,147.42 L260.00,147.59 L260.50,147.81 L261.00,147.73 L261.50,147.60 L262.00,148.06 L262.50,147.77 L263.00,147.83 L263.50,147.65 L264.00,147.84 L264.50,148.24 L265.00,147.72 L265.50,148.14 L266.00,148.38 L266.50,148.14 L267.00,148.33 L267.50,148.03 L268.00,148.67 L268.50,148.65 L269.00,148.46 L269.50,147.99 L270.00,148.20 L270.50,148.73 L271.00,148.94 L271.50,148.60 L272.00,148.86 L272.50,148.41 L273.00,148.53 L273.50,148.59 L274.00,148.70 L274.40,148.22" fill="none" stroke="#333333" stroke-width="1.9" stroke-linejoin="round" stroke-linecap="round" />
<line x1="92.30" y1="146.70" x2="92.30" y2="173.00" stroke="#111" stroke-width="1.3" />
<line x1="128.30" y1="158.10" x2="128.30" y2="173.00" stroke="#111" stroke-width="1.3" />
<line x1="165.10" y1="160.50" x2="165.10" y2="173.00" stroke="#111" stroke-width="1.3" />
<line x1="173.70" y1="169.20" x2="173.70" y2="173.00" stroke="#111" stroke-width="1.3" />
<line x1="179.10" y1="165.60" x2="179.10" y2="173.00" stroke="#111" stroke-width="1.3" />
<line x1="192.20" y1="168.90" x2="192.20" y2="173.00" stroke="#111" stroke-width="1.3" />
<line x1="202.20" y1="168.90" x2="202.20" y2="173.00" stroke="#111" stroke-width="1.3" />
<line x1="220.90" y1="168.90" x2="220.90" y2="173.00" stroke="#111" stroke-width="1.3" />
<line x1="231.20" y1="168.90" x2="231.20" y2="173.00" stroke="#111" stroke-width="1.3" />
<line x1="246.50" y1="164.40" x2="246.50" y2="173.00" stroke="#111" stroke-width="1.3" />
<line x1="251.00" y1="163.10" x2="251.00" y2="173.00" stroke="#111" stroke-width="1.3" />
<line x1="262.20" y1="168.30" x2="262.20" y2="173.00" stroke="#111" stroke-width="1.3" />
<rect x="71.55" y="9.0" width="203.25" height="164.00" fill="none" stroke="#262626" stroke-width="1.3"/>
<line x1="87.30" y1="173.00" x2="87.30" y2="175.60" stroke="#1a1a1a" stroke-width="1.2" />
<text x="87.30" y="186.2" font-size="11.0" text-anchor="middle" fill="#111" color="#111" font-weight="bold" >10</text>
<line x1="118.48" y1="173.00" x2="118.48" y2="175.60" stroke="#1a1a1a" stroke-width="1.2" />
<text x="118.48" y="186.2" font-size="11.0" text-anchor="middle" fill="#111" color="#111" font-weight="bold" >20</text>
<line x1="149.66" y1="173.00" x2="149.66" y2="175.60" stroke="#1a1a1a" stroke-width="1.2" />
<text x="149.66" y="186.2" font-size="11.0" text-anchor="middle" fill="#111" color="#111" font-weight="bold" >30</text>
<line x1="180.84" y1="173.00" x2="180.84" y2="175.60" stroke="#1a1a1a" stroke-width="1.2" />
<text x="180.84" y="186.2" font-size="11.0" text-anchor="middle" fill="#111" color="#111" font-weight="bold" >40</text>
<line x1="212.02" y1="173.00" x2="212.02" y2="175.60" stroke="#1a1a1a" stroke-width="1.2" />
<text x="212.02" y="186.2" font-size="11.0" text-anchor="middle" fill="#111" color="#111" font-weight="bold" >50</text>
<line x1="243.20" y1="173.00" x2="243.20" y2="175.60" stroke="#1a1a1a" stroke-width="1.2" />
<text x="243.20" y="186.2" font-size="11.0" text-anchor="middle" fill="#111" color="#111" font-weight="bold" >60</text>
<line x1="274.38" y1="173.00" x2="274.38" y2="175.60" stroke="#1a1a1a" stroke-width="1.2" />
<text x="274.38" y="186.2" font-size="11.0" text-anchor="middle" fill="#111" color="#111" font-weight="bold" >70</text>
<line x1="102.89" y1="173.00" x2="102.89" y2="174.60" stroke="#1a1a1a" stroke-width="1.0" />
<line x1="134.07" y1="173.00" x2="134.07" y2="174.60" stroke="#1a1a1a" stroke-width="1.0" />
<line x1="165.25" y1="173.00" x2="165.25" y2="174.60" stroke="#1a1a1a" stroke-width="1.0" />
<line x1="196.43" y1="173.00" x2="196.43" y2="174.60" stroke="#1a1a1a" stroke-width="1.0" />
<line x1="227.61" y1="173.00" x2="227.61" y2="174.60" stroke="#1a1a1a" stroke-width="1.0" />
<line x1="258.79" y1="173.00" x2="258.79" y2="174.60" stroke="#1a1a1a" stroke-width="1.0" />
<text x="272.0" y="62.0" font-size="7.7" text-anchor="end" fill="#111" color="#111" font-weight="bold" >CNTs</text>
<text x="272.6" y="78.0" font-size="7.7" text-anchor="end" fill="#111" color="#111" font-weight="bold" >NiCo-LDH@CNTs-3%</text>
<text x="272.6" y="102.0" font-size="7.7" text-anchor="end" fill="#111" color="#111" font-weight="bold" >NiCo-LDH@CNTs-2.5%</text>
<text x="272.2" y="125.6" font-size="7.7" text-anchor="end" fill="#111" color="#111" font-weight="bold" >NiCo-LDH@CNTs-2%</text>
<text x="271.8" y="142.0" font-size="7.7" text-anchor="end" fill="#111" color="#111" font-weight="bold" >NiCo-LDH-150</text>
<text x="272.0" y="161.6" font-size="7.45" text-anchor="end" fill="#111" color="#111" font-weight="bold" >PDF#40-0216</text>
<text x="172.8" y="202.6" font-size="14" text-anchor="middle" fill="#111" color="#111" font-weight="bold" >2 Theta (degree)</text>
<text transform="translate(61.6,85.4) rotate(-90)" font-size="14" text-anchor="middle" fill="#111" color="#111" font-weight="bold" >Intensity (a. u.)</text>
<text x="5.3" y="19.9" font-size="18" text-anchor="start" fill="#111" color="#111" font-weight="bold" >(a)</text>
<line x1="368.50" y1="26.50" x2="368.50" y2="151.00" stroke="#555" stroke-width="0.75" stroke-dasharray="1.5,1.2"/>
<line x1="472.50" y1="27.70" x2="472.50" y2="142.00" stroke="#555" stroke-width="0.75" stroke-dasharray="1.5,1.2"/>
<line x1="487.00" y1="40.60" x2="487.00" y2="160.00" stroke="#555" stroke-width="0.75" stroke-dasharray="1.5,1.2"/>
<line x1="529.00" y1="44.10" x2="529.00" y2="136.30" stroke="#555" stroke-width="0.75" stroke-dasharray="1.5,1.2"/>
<path d="M335.80,30.71 L336.20,30.76 L336.60,30.45 L337.00,30.42 L337.40,30.61 L337.80,30.47 L338.20,30.24 L338.60,30.60 L339.00,30.49 L339.40,30.39 L339.80,30.66 L340.20,30.39 L340.60,30.25 L341.00,30.31 L341.40,30.13 L341.80,30.12 L342.20,30.21 L342.60,30.05 L343.00,30.02 L343.40,30.22 L343.80,30.08 L344.20,30.01 L344.60,29.90 L345.00,29.80 L345.40,29.82 L345.80,29.54 L346.20,29.65 L346.60,29.20 L347.00,29.17 L347.40,28.92 L347.80,28.93 L348.20,28.92 L348.60,28.92 L349.00,28.56 L349.40,28.54 L349.80,28.38 L350.20,28.21 L350.60,28.02 L351.00,27.95 L351.40,27.49 L351.80,27.54 L352.20,27.55 L352.60,27.74 L353.00,28.05 L353.40,28.22 L353.80,28.58 L354.20,28.06 L354.60,28.26 L355.00,28.07 L355.40,28.00 L355.80,28.00 L356.20,28.40 L356.60,28.64 L357.00,28.46 L357.40,28.70 L357.80,29.04 L358.20,29.15 L358.60,29.55 L359.00,29.44 L359.40,29.76 L359.80,29.75 L360.20,30.36 L360.60,30.23 L361.00,30.27 L361.40,30.73 L361.80,30.95 L362.20,31.40 L362.60,31.34 L363.00,31.57 L363.40,31.82 L363.80,32.11 L364.20,32.07 L364.60,32.36 L365.00,32.47 L365.40,32.54 L365.80,32.74 L366.20,32.89 L366.60,32.91 L367.00,33.28 L367.40,33.06 L367.80,33.42 L368.20,33.41 L368.60,33.25 L369.00,33.07 L369.40,32.98 L369.80,32.86 L370.20,32.66 L370.60,32.35 L371.00,32.17 L371.40,31.72 L371.80,31.56 L372.20,31.12 L372.60,31.19 L373.00,30.91 L373.40,30.63 L373.80,30.60 L374.20,30.32 L374.60,29.68 L375.00,29.80 L375.40,29.40 L375.80,29.48 L376.20,29.43 L376.60,28.86 L377.00,28.72 L377.40,28.48 L377.80,28.37 L378.20,28.22 L378.60,28.13 L379.00,27.69 L379.40,27.86 L379.80,27.42 L380.20,27.44 L380.60,27.42 L381.00,27.25 L381.40,26.93 L381.80,26.85 L382.20,26.76 L382.60,26.71 L383.00,26.75 L383.40,26.35 L383.80,26.47 L384.20,26.39 L384.60,26.29 L385.00,26.19 L385.40,26.24 L385.80,26.03 L386.20,26.00 L386.60,25.89 L387.00,25.97 L387.40,25.46 L387.80,25.78 L388.20,25.54 L388.60,25.48 L389.00,25.34 L389.40,25.18 L389.80,25.31 L390.20,25.22 L390.60,25.31 L391.00,25.03 L391.40,25.33 L391.80,25.15 L392.20,25.04 L392.60,24.94 L393.00,24.89 L393.40,24.81 L393.80,24.84 L394.20,24.87 L394.60,24.81 L395.00,24.62 L395.40,24.72 L395.80,24.61 L396.20,24.70 L396.60,24.88 L397.00,24.69 L397.40,24.55 L397.80,24.36 L398.20,24.36 L398.60,24.29 L399.00,24.56 L399.40,24.35 L399.80,24.42 L400.20,24.31 L400.60,24.37 L401.00,24.50 L401.40,24.22 L401.80,24.24 L402.20,24.15 L402.60,24.33 L403.00,24.07 L403.40,24.03 L403.80,23.97 L404.20,23.95 L404.60,24.14 L405.00,24.37 L405.40,23.92 L405.80,24.12 L406.20,24.01 L406.60,23.83 L407.00,23.90 L407.40,23.88 L407.80,23.80 L408.20,24.09 L408.60,23.61 L409.00,23.87 L409.40,23.84 L409.80,23.71 L410.20,23.78 L410.60,23.85 L411.00,23.74 L411.40,23.76 L411.80,23.77 L412.20,23.43 L412.60,23.84 L413.00,23.92 L413.40,23.76 L413.80,23.75 L414.20,23.45 L414.60,23.60 L415.00,23.51 L415.40,23.53 L415.80,23.72 L416.20,23.50 L416.60,23.59 L417.00,23.38 L417.40,23.60 L417.80,23.64 L418.20,23.56 L418.60,23.58 L419.00,23.92 L419.40,23.58 L419.80,23.64 L420.20,23.70 L420.60,23.98 L421.00,24.13 L421.40,23.96 L421.80,23.88 L422.20,23.97 L422.60,24.20 L423.00,24.01 L423.40,24.35 L423.80,24.40 L424.20,24.29 L424.60,24.41 L425.00,24.48 L425.40,24.63 L425.80,24.37 L426.20,24.70 L426.60,24.56 L427.00,24.57 L427.40,24.72 L427.80,24.74 L428.20,24.69 L428.60,24.67 L429.00,24.79 L429.40,25.12 L429.80,25.22 L430.20,25.10 L430.60,25.20 L431.00,25.03 L431.40,25.12 L431.80,25.19 L432.20,25.06 L432.60,25.11 L433.00,25.28 L433.40,25.26 L433.80,25.20 L434.20,25.41 L434.60,25.37 L435.00,25.55 L435.40,25.46 L435.80,25.46 L436.20,25.54 L436.60,25.54 L437.00,25.51 L437.40,25.58 L437.80,25.75 L438.20,25.77 L438.60,25.87 L439.00,25.55 L439.40,25.74 L439.80,25.76 L440.20,25.86 L440.60,25.82 L441.00,25.84 L441.40,26.03 L441.80,25.99 L442.20,25.85 L442.60,26.18 L443.00,26.17 L443.40,26.01 L443.80,26.21 L444.20,26.05 L444.60,26.31 L445.00,26.17 L445.40,26.13 L445.80,26.21 L446.20,26.19 L446.60,26.33 L447.00,26.35 L447.40,26.36 L447.80,26.31 L448.20,25.96 L448.60,26.43 L449.00,26.22 L449.40,26.49 L449.80,26.62 L450.20,26.54 L450.60,26.48 L451.00,26.52 L451.40,26.55 L451.80,26.52 L452.20,26.54 L452.60,26.52 L453.00,26.79 L453.40,26.67 L453.80,26.80 L454.20,26.68 L454.60,26.74 L455.00,26.73 L455.40,26.83 L455.80,26.90 L456.20,26.86 L456.60,26.77 L457.00,26.79 L457.40,27.11 L457.80,26.90 L458.20,26.93 L458.60,27.17 L459.00,27.16 L459.40,27.13 L459.80,27.05 L460.20,27.42 L460.60,27.22 L461.00,27.28 L461.40,27.24 L461.80,27.13 L462.20,27.19 L462.60,27.46 L463.00,27.53 L463.40,27.53 L463.80,27.51 L464.20,27.57 L464.60,27.80 L465.00,27.77 L465.40,28.16 L465.80,28.30 L466.20,28.61 L466.60,28.49 L467.00,28.43 L467.40,28.51 L467.80,28.31 L468.20,28.75 L468.60,28.91 L469.00,29.14 L469.40,29.18 L469.80,29.26 L470.20,29.29 L470.60,29.42 L471.00,29.59 L471.40,29.38 L471.80,29.55 L472.20,29.56 L472.60,30.06 L473.00,30.22 L473.40,30.50 L473.80,30.70 L474.20,31.36 L474.60,31.80 L475.00,32.28 L475.40,32.60 L475.80,32.91 L476.20,32.96 L476.60,33.27 L477.00,33.34 L477.40,33.39 L477.80,33.51 L478.20,33.53 L478.60,33.70 L479.00,33.49 L479.40,33.37 L479.80,33.02 L480.20,32.60 L480.60,32.60 L481.00,32.13 L481.40,32.20 L481.80,32.16 L482.20,31.96 L482.60,32.12 L483.00,32.28 L483.40,32.35 L483.80,32.41 L484.20,32.73 L484.60,32.72 L485.00,32.91 L485.40,32.92 L485.80,33.11 L486.20,33.06 L486.60,33.19 L487.00,33.27 L487.40,33.19 L487.80,33.12 L488.20,33.02 L488.60,33.14 L489.00,33.13 L489.40,33.02 L489.80,32.93 L490.20,33.05 L490.60,33.26 L491.00,32.90 L491.40,32.95 L491.80,32.95 L492.20,32.60 L492.60,32.99 L493.00,33.03 L493.40,33.48 L493.80,33.52 L494.20,33.72 L494.60,34.05 L495.00,34.34 L495.40,34.47 L495.80,34.69 L496.20,34.67 L496.60,34.94 L497.00,35.19 L497.40,35.46 L497.80,35.43 L498.20,35.47 L498.60,35.66 L499.00,35.70 L499.40,35.80 L499.80,35.72 L500.20,35.55 L500.60,35.54 L501.00,35.45 L501.40,35.38 L501.80,35.26 L502.20,35.03 L502.60,34.75 L503.00,34.80 L503.40,34.52 L503.80,34.65 L504.20,34.53 L504.60,34.22 L505.00,34.41 L505.40,34.34 L505.80,34.16 L506.20,34.25 L506.60,34.19 L507.00,33.73 L507.40,33.90 L507.80,33.74 L508.20,33.65 L508.60,33.61 L509.00,33.32 L509.40,33.24 L509.80,33.12 L510.20,33.03 L510.60,33.01 L511.00,32.74 L511.40,32.69 L511.80,32.78 L512.20,32.59 L512.60,32.54 L513.00,32.15 L513.40,32.17 L513.80,32.08 L514.20,32.03 L514.60,31.84 L515.00,31.90 L515.40,31.66 L515.80,31.54 L516.20,31.41 L516.60,31.37 L517.00,31.10 L517.40,31.16 L517.80,30.95 L518.20,30.78 L518.60,30.63 L519.00,30.55 L519.40,30.47 L519.80,30.32 L520.20,30.11 L520.60,30.03 L521.00,29.80 L521.40,29.79 L521.80,29.49 L522.20,29.10 L522.60,29.36 L523.00,29.06 L523.40,28.76 L523.80,28.72 L524.20,28.48 L524.60,28.69 L525.00,28.33 L525.40,27.92 L525.80,28.01 L526.20,27.73 L526.60,27.85 L527.00,27.32 L527.40,27.01 L527.80,27.11 L528.20,26.89 L528.60,26.71 L529.00,26.32 L529.40,26.45 L529.80,26.42 L530.20,25.81 L530.60,26.00 L531.00,25.61 L531.40,25.77 L531.80,25.36 L532.20,25.12 L532.60,25.11 L533.00,24.88 L533.40,24.59 L533.80,24.57 L534.20,24.25 L534.60,23.90 L535.00,24.13 L535.40,23.60 L535.80,23.28 L536.20,23.06 L536.60,22.35 L537.00,21.78 L537.40,21.19 L537.80,20.43 L538.20,19.71 L538.30,19.63" fill="none" stroke="#9745ea" stroke-width="1.35" stroke-linejoin="round" stroke-linecap="round" />
<path d="M335.80,53.14 L336.20,53.23 L336.60,53.21 L337.00,52.98 L337.40,53.11 L337.80,52.93 L338.20,53.13 L338.60,53.02 L339.00,52.93 L339.40,52.73 L339.80,52.86 L340.20,52.71 L340.60,52.85 L341.00,52.70 L341.40,52.57 L341.80,52.73 L342.20,52.66 L342.60,52.45 L343.00,52.59 L343.40,52.34 L343.80,52.26 L344.20,52.23 L344.60,52.04 L345.00,51.99 L345.40,51.94 L345.80,52.07 L346.20,51.99 L346.60,51.72 L347.00,51.89 L347.40,51.64 L347.80,51.66 L348.20,51.71 L348.60,51.64 L349.00,51.90 L349.40,51.66 L349.80,51.52 L350.20,51.86 L350.60,51.70 L351.00,51.77 L351.40,51.51 L351.80,52.06 L352.20,52.11 L352.60,52.19 L353.00,52.29 L353.40,52.47 L353.80,52.35 L354.20,52.56 L354.60,52.46 L355.00,52.61 L355.40,52.88 L355.80,52.90 L356.20,52.82 L356.60,53.18 L357.00,53.29 L357.40,53.41 L357.80,53.76 L358.20,53.88 L358.60,53.97 L359.00,54.26 L359.40,54.84 L359.80,54.68 L360.20,55.11 L360.60,55.38 L361.00,55.59 L361.40,55.56 L361.80,55.85 L362.20,56.10 L362.60,56.37 L363.00,56.41 L363.40,56.56 L363.80,57.03 L364.20,57.25 L364.60,57.36 L365.00,57.44 L365.40,57.74 L365.80,57.88 L366.20,58.12 L366.60,58.00 L367.00,58.27 L367.40,58.31 L367.80,58.25 L368.20,58.43 L368.60,58.37 L369.00,58.22 L369.40,58.16 L369.80,57.75 L370.20,57.69 L370.60,57.51 L371.00,57.24 L371.40,57.08 L371.80,56.57 L372.20,56.32 L372.60,56.34 L373.00,56.17 L373.40,56.18 L373.80,55.80 L374.20,55.42 L374.60,55.42 L375.00,55.02 L375.40,54.74 L375.80,55.03 L376.20,54.55 L376.60,54.39 L377.00,54.18 L377.40,54.13 L377.80,53.76 L378.20,53.69 L378.60,53.24 L379.00,53.02 L379.40,53.20 L379.80,53.05 L380.20,52.78 L380.60,52.61 L381.00,52.48 L381.40,52.26 L381.80,52.43 L382.20,52.24 L382.60,52.13 L383.00,52.03 L383.40,52.03 L383.80,51.89 L384.20,51.84 L384.60,51.54 L385.00,51.67 L385.40,51.81 L385.80,51.41 L386.20,51.40 L386.60,51.46 L387.00,51.41 L387.40,51.31 L387.80,50.99 L388.20,51.19 L388.60,50.94 L389.00,50.94 L389.40,51.06 L389.80,50.92 L390.20,51.01 L390.60,51.26 L391.00,50.94 L391.40,50.90 L391.80,50.68 L392.20,50.68 L392.60,50.61 L393.00,50.65 L393.40,50.56 L393.80,50.59 L394.20,50.62 L394.60,50.51 L395.00,50.44 L395.40,50.43 L395.80,50.63 L396.20,50.57 L396.60,50.67 L397.00,50.65 L397.40,50.47 L397.80,50.58 L398.20,50.31 L398.60,50.74 L399.00,50.59 L399.40,50.40 L399.80,50.27 L400.20,50.44 L400.60,50.15 L401.00,50.25 L401.40,50.42 L401.80,50.31 L402.20,50.22 L402.60,50.37 L403.00,50.11 L403.40,50.24 L403.80,50.12 L404.20,50.05 L404.60,50.18 L405.00,49.98 L405.40,50.30 L405.80,49.98 L406.20,50.26 L406.60,49.86 L407.00,50.04 L407.40,49.80 L407.80,49.75 L408.20,49.91 L408.60,49.95 L409.00,49.69 L409.40,49.96 L409.80,49.70 L410.20,49.79 L410.60,49.80 L411.00,49.80 L411.40,49.50 L411.80,49.89 L412.20,49.75 L412.60,49.61 L413.00,49.53 L413.40,49.44 L413.80,49.47 L414.20,49.68 L414.60,49.57 L415.00,49.47 L415.40,49.54 L415.80,49.79 L416.20,49.56 L416.60,49.53 L417.00,49.77 L417.40,49.68 L417.80,49.64 L418.20,49.58 L418.60,49.49 L419.00,49.56 L419.40,49.67 L419.80,49.73 L420.20,49.82 L420.60,49.88 L421.00,49.88 L421.40,49.91 L421.80,49.80 L422.20,49.71 L422.60,49.94 L423.00,49.93 L423.40,50.01 L423.80,50.10 L424.20,50.03 L424.60,50.09 L425.00,50.26 L425.40,50.33 L425.80,50.28 L426.20,50.47 L426.60,50.43 L427.00,50.37 L427.40,50.55 L427.80,50.81 L428.20,50.54 L428.60,50.81 L429.00,50.87 L429.40,50.93 L429.80,50.68 L430.20,51.06 L430.60,50.87 L431.00,50.86 L431.40,50.89 L431.80,51.03 L432.20,51.00 L432.60,51.00 L433.00,51.21 L433.40,51.00 L433.80,51.00 L434.20,51.25 L434.60,51.28 L435.00,51.36 L435.40,51.13 L435.80,51.42 L436.20,51.38 L436.60,51.57 L437.00,51.24 L437.40,51.45 L437.80,51.42 L438.20,51.30 L438.60,51.44 L439.00,51.69 L439.40,51.53 L439.80,51.53 L440.20,51.76 L440.60,51.80 L441.00,51.84 L441.40,51.66 L441.80,51.78 L442.20,51.94 L442.60,51.77 L443.00,51.79 L443.40,52.02 L443.80,52.14 L444.20,51.85 L444.60,51.71 L445.00,51.88 L445.40,51.97 L445.80,52.10 L446.20,52.23 L446.60,52.17 L447.00,52.14 L447.40,52.28 L447.80,52.18 L448.20,52.32 L448.60,52.29 L449.00,52.72 L449.40,52.53 L449.80,52.37 L450.20,52.39 L450.60,52.49 L451.00,52.38 L451.40,52.53 L451.80,52.57 L452.20,52.80 L452.60,52.68 L453.00,52.68 L453.40,52.65 L453.80,52.71 L454.20,52.88 L454.60,52.90 L455.00,53.10 L455.40,52.93 L455.80,53.17 L456.20,53.12 L456.60,53.13 L457.00,52.93 L457.40,53.06 L457.80,53.35 L458.20,53.47 L458.60,53.37 L459.00,53.48 L459.40,53.38 L459.80,53.43 L460.20,53.44 L460.60,53.69 L461.00,53.67 L461.40,53.66 L461.80,53.71 L462.20,53.88 L462.60,53.92 L463.00,53.85 L463.40,54.23 L463.80,54.13 L464.20,54.18 L464.60,54.43 L465.00,54.45 L465.40,54.39 L465.80,54.54 L466.20,54.42 L466.60,54.55 L467.00,54.43 L467.40,54.91 L467.80,54.61 L468.20,54.98 L468.60,54.86 L469.00,54.90 L469.40,55.05 L469.80,55.15 L470.20,55.24 L470.60,55.41 L471.00,55.28 L471.40,55.37 L471.80,55.21 L472.20,55.38 L472.60,55.32 L473.00,55.24 L473.40,55.29 L473.80,55.29 L474.20,55.32 L474.60,55.35 L475.00,55.24 L475.40,55.21 L475.80,55.39 L476.20,55.10 L476.60,55.23 L477.00,55.49 L477.40,54.98 L477.80,55.22 L478.20,55.38 L478.60,55.10 L479.00,55.61 L479.40,54.99 L479.80,55.47 L480.20,55.49 L480.60,55.41 L481.00,55.27 L481.40,55.34 L481.80,55.19 L482.20,55.40 L482.60,55.17 L483.00,55.27 L483.40,55.42 L483.80,55.17 L484.20,55.28 L484.60,55.45 L485.00,55.45 L485.40,56.01 L485.80,56.24 L486.20,56.83 L486.60,58.49 L487.00,61.79 L487.40,60.01 L487.80,57.75 L488.20,56.57 L488.60,56.40 L489.00,56.04 L489.40,56.14 L489.80,55.92 L490.20,55.93 L490.60,55.67 L491.00,55.58 L491.40,55.41 L491.80,55.52 L492.20,55.47 L492.60,55.53 L493.00,55.34 L493.40,55.13 L493.80,54.99 L494.20,54.98 L494.60,54.85 L495.00,54.96 L495.40,54.82 L495.80,54.54 L496.20,54.49 L496.60,54.68 L497.00,54.49 L497.40,54.37 L497.80,54.49 L498.20,54.26 L498.60,54.23 L499.00,54.17 L499.40,53.96 L499.80,54.27 L500.20,53.99 L500.60,54.05 L501.00,54.02 L501.40,54.19 L501.80,54.09 L502.20,54.11 L502.60,53.93 L503.00,54.16 L503.40,54.05 L503.80,54.34 L504.20,55.33 L504.60,56.52 L505.00,56.28 L505.40,54.75 L505.80,54.46 L506.20,54.38 L506.60,54.32 L507.00,54.44 L507.40,54.44 L507.80,54.14 L508.20,54.41 L508.60,54.34 L509.00,54.38 L509.40,54.31 L509.80,54.10 L510.20,54.10 L510.60,54.45 L511.00,54.26 L511.40,54.05 L511.80,54.26 L512.20,54.17 L512.60,53.99 L513.00,53.94 L513.40,54.01 L513.80,54.24 L514.20,54.20 L514.60,54.17 L515.00,54.23 L515.40,54.26 L515.80,53.93 L516.20,54.15 L516.60,54.08 L517.00,54.02 L517.40,54.10 L517.80,54.14 L518.20,54.11 L518.60,53.96 L519.00,54.06 L519.40,54.35 L519.80,53.97 L520.20,53.87 L520.60,54.08 L521.00,54.09 L521.40,54.04 L521.80,53.82 L522.20,54.03 L522.60,53.78 L523.00,53.69 L523.40,53.71 L523.80,53.72 L524.20,53.76 L524.60,53.70 L525.00,53.56 L525.40,53.62 L525.80,53.46 L526.20,53.49 L526.60,53.15 L527.00,53.07 L527.40,53.29 L527.80,52.96 L528.20,53.03 L528.60,52.99 L529.00,52.88 L529.40,52.81 L529.80,52.96 L530.20,52.41 L530.60,52.74 L531.00,52.83 L531.40,52.46 L531.80,52.36 L532.20,52.35 L532.60,52.37 L533.00,51.89 L533.40,51.91 L533.80,51.73 L534.20,51.65 L534.60,51.41 L535.00,51.27 L535.40,50.91 L535.80,50.73 L536.20,50.39 L536.60,50.08 L537.00,49.80 L537.40,49.43 L537.80,48.90 L538.20,48.80 L538.30,48.48" fill="none" stroke="#138a14" stroke-width="1.35" stroke-linejoin="round" stroke-linecap="round" />
<path d="M335.80,79.83 L336.20,80.09 L336.60,79.82 L337.00,79.93 L337.40,79.82 L337.80,79.81 L338.20,79.76 L338.60,79.62 L339.00,79.65 L339.40,79.84 L339.80,79.28 L340.20,79.51 L340.60,79.51 L341.00,79.28 L341.40,79.20 L341.80,79.57 L342.20,79.22 L342.60,79.47 L343.00,79.24 L343.40,79.13 L343.80,79.13 L344.20,79.10 L344.60,79.12 L345.00,78.98 L345.40,78.89 L345.80,78.85 L346.20,78.94 L346.60,78.81 L347.00,78.53 L347.40,78.51 L347.80,78.56 L348.20,78.37 L348.60,78.33 L349.00,78.19 L349.40,78.21 L349.80,78.23 L350.20,78.24 L350.60,78.08 L351.00,78.29 L351.40,78.01 L351.80,78.39 L352.20,78.13 L352.60,78.13 L353.00,78.12 L353.40,77.99 L353.80,78.51 L354.20,78.76 L354.60,79.21 L355.00,79.07 L355.40,79.73 L355.80,79.72 L356.20,80.09 L356.60,79.95 L357.00,80.56 L357.40,80.82 L357.80,81.29 L358.20,81.58 L358.60,81.81 L359.00,82.44 L359.40,82.80 L359.80,83.18 L360.20,83.62 L360.60,84.01 L361.00,84.24 L361.40,84.43 L361.80,84.75 L362.20,85.37 L362.60,85.57 L363.00,85.73 L363.40,85.90 L363.80,86.20 L364.20,86.45 L364.60,86.64 L365.00,86.83 L365.40,87.40 L365.80,87.37 L366.20,87.45 L366.60,87.53 L367.00,87.73 L367.40,88.00 L367.80,88.07 L368.20,87.97 L368.60,87.97 L369.00,87.83 L369.40,87.58 L369.80,87.67 L370.20,87.32 L370.60,87.31 L371.00,86.63 L371.40,86.39 L371.80,86.20 L372.20,85.75 L372.60,85.31 L373.00,85.07 L373.40,84.93 L373.80,84.72 L374.20,84.43 L374.60,84.32 L375.00,84.07 L375.40,83.73 L375.80,83.44 L376.20,83.15 L376.60,82.99 L377.00,82.77 L377.40,82.42 L377.80,82.21 L378.20,81.87 L378.60,81.50 L379.00,81.31 L379.40,81.30 L379.80,81.04 L380.20,80.97 L380.60,80.59 L381.00,80.50 L381.40,80.39 L381.80,80.19 L382.20,79.86 L382.60,79.77 L383.00,79.68 L383.40,79.42 L383.80,79.47 L384.20,79.41 L384.60,79.12 L385.00,79.30 L385.40,78.92 L385.80,78.82 L386.20,78.72 L386.60,78.56 L387.00,78.60 L387.40,78.46 L387.80,78.56 L388.20,78.35 L388.60,78.25 L389.00,78.08 L389.40,77.85 L389.80,77.93 L390.20,77.76 L390.60,77.90 L391.00,77.71 L391.40,77.84 L391.80,77.65 L392.20,77.59 L392.60,77.44 L393.00,77.36 L393.40,77.34 L393.80,77.30 L394.20,77.02 L394.60,77.09 L395.00,77.28 L395.40,76.88 L395.80,76.79 L396.20,76.68 L396.60,76.52 L397.00,76.78 L397.40,76.60 L397.80,76.58 L398.20,76.72 L398.60,76.77 L399.00,76.33 L399.40,76.54 L399.80,76.48 L400.20,76.45 L400.60,76.45 L401.00,76.38 L401.40,76.57 L401.80,76.45 L402.20,76.41 L402.60,76.52 L403.00,76.47 L403.40,76.42 L403.80,76.40 L404.20,76.56 L404.60,76.41 L405.00,76.34 L405.40,76.24 L405.80,76.30 L406.20,76.21 L406.60,76.35 L407.00,76.36 L407.40,76.08 L407.80,76.33 L408.20,76.40 L408.60,76.34 L409.00,76.20 L409.40,76.47 L409.80,76.23 L410.20,76.17 L410.60,76.18 L411.00,76.31 L411.40,76.43 L411.80,76.45 L412.20,76.33 L412.60,76.16 L413.00,76.22 L413.40,76.19 L413.80,76.28 L414.20,76.09 L414.60,76.31 L415.00,76.38 L415.40,76.28 L415.80,76.36 L416.20,76.19 L416.60,76.13 L417.00,76.23 L417.40,76.45 L417.80,76.44 L418.20,76.27 L418.60,76.47 L419.00,76.30 L419.40,76.53 L419.80,76.42 L420.20,76.32 L420.60,76.48 L421.00,76.30 L421.40,76.30 L421.80,76.25 L422.20,76.47 L422.60,76.45 L423.00,76.46 L423.40,76.44 L423.80,76.68 L424.20,76.48 L424.60,76.46 L425.00,76.71 L425.40,76.75 L425.80,76.64 L426.20,76.41 L426.60,76.57 L427.00,76.73 L427.40,76.68 L427.80,76.89 L428.20,76.55 L428.60,76.82 L429.00,76.68 L429.40,76.93 L429.80,76.78 L430.20,76.93 L430.60,76.75 L431.00,76.67 L431.40,76.73 L431.80,76.80 L432.20,76.77 L432.60,77.06 L433.00,77.09 L433.40,76.98 L433.80,76.84 L434.20,76.96 L434.60,76.91 L435.00,77.19 L435.40,77.07 L435.80,77.10 L436.20,77.01 L436.60,76.84 L437.00,77.00 L437.40,76.98 L437.80,77.18 L438.20,77.16 L438.60,77.07 L439.00,77.14 L439.40,77.39 L439.80,77.10 L440.20,77.13 L440.60,77.23 L441.00,77.19 L441.40,77.24 L441.80,77.38 L442.20,77.54 L442.60,77.14 L443.00,77.37 L443.40,77.40 L443.80,77.40 L444.20,77.41 L444.60,77.41 L445.00,77.59 L445.40,77.44 L445.80,77.50 L446.20,77.54 L446.60,77.57 L447.00,77.56 L447.40,77.73 L447.80,77.63 L448.20,77.68 L448.60,77.67 L449.00,77.58 L449.40,77.63 L449.80,77.63 L450.20,77.80 L450.60,77.72 L451.00,77.71 L451.40,77.89 L451.80,77.95 L452.20,77.71 L452.60,78.15 L453.00,77.98 L453.40,78.00 L453.80,78.17 L454.20,78.08 L454.60,78.03 L455.00,78.40 L455.40,78.04 L455.80,78.19 L456.20,78.34 L456.60,78.14 L457.00,78.30 L457.40,78.39 L457.80,78.67 L458.20,78.31 L458.60,78.45 L459.00,78.58 L459.40,78.55 L459.80,78.43 L460.20,78.67 L460.60,78.68 L461.00,78.77 L461.40,78.91 L461.80,78.95 L462.20,78.94 L462.60,78.99 L463.00,78.89 L463.40,79.08 L463.80,79.19 L464.20,79.20 L464.60,79.34 L465.00,79.32 L465.40,79.69 L465.80,79.86 L466.20,79.65 L466.60,79.84 L467.00,79.87 L467.40,80.15 L467.80,80.16 L468.20,80.23 L468.60,80.31 L469.00,80.47 L469.40,80.46 L469.80,80.79 L470.20,80.75 L470.60,81.04 L471.00,81.20 L471.40,81.56 L471.80,81.67 L472.20,81.99 L472.60,81.88 L473.00,82.10 L473.40,82.02 L473.80,82.10 L474.20,82.10 L474.60,82.22 L475.00,81.88 L475.40,82.18 L475.80,81.97 L476.20,82.30 L476.60,81.93 L477.00,82.05 L477.40,81.97 L477.80,82.37 L478.20,82.03 L478.60,82.20 L479.00,82.12 L479.40,81.98 L479.80,82.16 L480.20,82.28 L480.60,82.19 L481.00,82.33 L481.40,82.18 L481.80,82.24 L482.20,82.21 L482.60,82.31 L483.00,82.52 L483.40,82.36 L483.80,82.36 L484.20,82.29 L484.60,82.31 L485.00,82.80 L485.40,83.04 L485.80,83.89 L486.20,85.29 L486.60,88.09 L487.00,93.62 L487.40,89.97 L487.80,86.70 L488.20,84.89 L488.60,84.12 L489.00,83.88 L489.40,83.81 L489.80,83.78 L490.20,83.32 L490.60,83.10 L491.00,83.28 L491.40,83.23 L491.80,82.90 L492.20,82.58 L492.60,82.93 L493.00,82.65 L493.40,82.73 L493.80,82.51 L494.20,82.40 L494.60,82.31 L495.00,82.46 L495.40,82.37 L495.80,81.84 L496.20,81.89 L496.60,82.14 L497.00,81.81 L497.40,81.62 L497.80,81.72 L498.20,81.65 L498.60,81.60 L499.00,81.50 L499.40,81.46 L499.80,81.39 L500.20,81.43 L500.60,81.23 L501.00,81.22 L501.40,81.17 L501.80,81.26 L502.20,81.05 L502.60,80.89 L503.00,80.85 L503.40,80.70 L503.80,80.63 L504.20,80.39 L504.60,80.36 L505.00,79.82 L505.40,78.73 L505.80,78.40 L506.20,79.36 L506.60,80.28 L507.00,80.40 L507.40,80.25 L507.80,80.22 L508.20,80.50 L508.60,80.56 L509.00,80.58 L509.40,80.34 L509.80,80.63 L510.20,80.45 L510.60,80.57 L511.00,80.58 L511.40,80.44 L511.80,80.48 L512.20,80.31 L512.60,80.45 L513.00,80.35 L513.40,80.62 L513.80,80.58 L514.20,80.69 L514.60,80.63 L515.00,80.51 L515.40,80.63 L515.80,80.54 L516.20,80.67 L516.60,80.63 L517.00,80.48 L517.40,80.60 L517.80,80.61 L518.20,80.56 L518.60,80.71 L519.00,80.81 L519.40,80.56 L519.80,80.56 L520.20,80.32 L520.60,80.57 L521.00,80.51 L521.40,80.28 L521.80,80.55 L522.20,80.55 L522.60,80.35 L523.00,80.35 L523.40,80.23 L523.80,80.39 L524.20,80.06 L524.60,80.14 L525.00,80.35 L525.40,80.05 L525.80,80.03 L526.20,79.88 L526.60,79.68 L527.00,79.74 L527.40,79.71 L527.80,79.45 L528.20,79.53 L528.60,79.55 L529.00,79.43 L529.40,78.98 L529.80,78.90 L530.20,78.65 L530.60,78.79 L531.00,78.52 L531.40,78.31 L531.80,77.87 L532.20,77.58 L532.60,77.46 L533.00,77.18 L533.40,76.77 L533.80,76.54 L534.20,76.20 L534.60,75.71 L535.00,75.06 L535.40,74.39 L535.80,73.86 L536.20,72.85 L536.60,72.00 L537.00,72.08 L537.40,73.08 L537.80,73.42 L538.20,72.74 L538.40,72.21" fill="none" stroke="#e64ea8" stroke-width="1.35" stroke-linejoin="round" stroke-linecap="round" />
<path d="M335.80,104.48 L336.20,104.51 L336.60,104.59 L337.00,104.43 L337.40,104.37 L337.80,104.46 L338.20,104.62 L338.60,104.46 L339.00,104.58 L339.40,104.36 L339.80,104.30 L340.20,104.13 L340.60,104.19 L341.00,104.39 L341.40,104.22 L341.80,104.22 L342.20,104.17 L342.60,104.04 L343.00,103.97 L343.40,103.96 L343.80,103.97 L344.20,103.89 L344.60,103.85 L345.00,103.75 L345.40,103.59 L345.80,103.60 L346.20,103.46 L346.60,103.62 L347.00,103.16 L347.40,103.30 L347.80,103.51 L348.20,103.07 L348.60,102.87 L349.00,102.90 L349.40,102.95 L349.80,102.68 L350.20,102.68 L350.60,102.54 L351.00,102.43 L351.40,102.80 L351.80,102.41 L352.20,102.34 L352.60,102.42 L353.00,102.66 L353.40,102.84 L353.80,103.11 L354.20,103.28 L354.60,103.36 L355.00,103.88 L355.40,104.05 L355.80,104.32 L356.20,104.42 L356.60,104.77 L357.00,105.00 L357.40,105.34 L357.80,105.43 L358.20,105.89 L358.60,106.17 L359.00,106.30 L359.40,106.64 L359.80,106.89 L360.20,107.38 L360.60,107.23 L361.00,107.75 L361.40,107.84 L361.80,108.23 L362.20,108.60 L362.60,108.63 L363.00,108.91 L363.40,108.99 L363.80,109.52 L364.20,109.60 L364.60,109.83 L365.00,109.72 L365.40,109.94 L365.80,110.37 L366.20,110.37 L366.60,110.50 L367.00,110.68 L367.40,110.58 L367.80,110.87 L368.20,110.80 L368.60,110.83 L369.00,110.61 L369.40,110.63 L369.80,110.32 L370.20,110.32 L370.60,110.12 L371.00,109.86 L371.40,109.56 L371.80,109.31 L372.20,108.66 L372.60,108.84 L373.00,108.47 L373.40,108.31 L373.80,108.07 L374.20,107.76 L374.60,107.67 L375.00,107.63 L375.40,107.53 L375.80,107.10 L376.20,106.87 L376.60,106.97 L377.00,106.50 L377.40,106.67 L377.80,106.24 L378.20,105.95 L378.60,106.00 L379.00,105.91 L379.40,105.37 L379.80,105.57 L380.20,105.19 L380.60,105.25 L381.00,104.88 L381.40,104.60 L381.80,104.72 L382.20,104.65 L382.60,104.67 L383.00,104.51 L383.40,104.28 L383.80,104.05 L384.20,103.91 L384.60,103.83 L385.00,103.66 L385.40,103.63 L385.80,103.26 L386.20,103.49 L386.60,103.37 L387.00,103.59 L387.40,103.28 L387.80,103.05 L388.20,103.09 L388.60,102.79 L389.00,102.79 L389.40,102.56 L389.80,102.88 L390.20,102.70 L390.60,102.42 L391.00,102.49 L391.40,102.55 L391.80,102.43 L392.20,102.35 L392.60,102.14 L393.00,102.10 L393.40,102.13 L393.80,102.16 L394.20,101.89 L394.60,101.79 L395.00,102.01 L395.40,101.70 L395.80,101.88 L396.20,101.73 L396.60,101.76 L397.00,101.82 L397.40,101.65 L397.80,101.62 L398.20,101.38 L398.60,101.38 L399.00,101.51 L399.40,101.60 L399.80,101.57 L400.20,101.67 L400.60,101.43 L401.00,101.41 L401.40,101.50 L401.80,101.37 L402.20,101.36 L402.60,101.23 L403.00,101.47 L403.40,101.22 L403.80,101.40 L404.20,101.16 L404.60,101.46 L405.00,101.20 L405.40,101.42 L405.80,101.12 L406.20,101.26 L406.60,101.45 L407.00,101.20 L407.40,101.30 L407.80,101.23 L408.20,101.01 L408.60,101.32 L409.00,101.33 L409.40,101.14 L409.80,101.34 L410.20,101.17 L410.60,101.14 L411.00,101.26 L411.40,101.17 L411.80,101.53 L412.20,101.06 L412.60,101.33 L413.00,101.36 L413.40,101.00 L413.80,101.03 L414.20,101.30 L414.60,101.17 L415.00,101.28 L415.40,101.36 L415.80,101.18 L416.20,101.10 L416.60,100.89 L417.00,101.24 L417.40,101.11 L417.80,101.25 L418.20,101.24 L418.60,101.05 L419.00,101.42 L419.40,101.34 L419.80,101.31 L420.20,101.07 L420.60,101.16 L421.00,101.14 L421.40,101.15 L421.80,101.07 L422.20,101.25 L422.60,101.23 L423.00,101.25 L423.40,101.14 L423.80,101.36 L424.20,101.22 L424.60,100.87 L425.00,101.12 L425.40,101.19 L425.80,101.32 L426.20,101.17 L426.60,101.18 L427.00,101.14 L427.40,101.32 L427.80,101.20 L428.20,101.20 L428.60,101.21 L429.00,101.39 L429.40,101.28 L429.80,101.17 L430.20,101.48 L430.60,101.35 L431.00,101.52 L431.40,101.55 L431.80,101.69 L432.20,101.71 L432.60,101.56 L433.00,101.65 L433.40,101.55 L433.80,101.95 L434.20,101.85 L434.60,102.00 L435.00,101.84 L435.40,101.68 L435.80,102.15 L436.20,102.02 L436.60,102.07 L437.00,102.11 L437.40,102.22 L437.80,102.25 L438.20,102.04 L438.60,102.40 L439.00,102.24 L439.40,102.29 L439.80,102.59 L440.20,102.53 L440.60,102.41 L441.00,102.26 L441.40,102.54 L441.80,102.62 L442.20,102.58 L442.60,102.47 L443.00,102.56 L443.40,102.53 L443.80,102.74 L444.20,102.84 L444.60,102.90 L445.00,102.72 L445.40,102.87 L445.80,102.93 L446.20,102.84 L446.60,102.91 L447.00,103.22 L447.40,103.02 L447.80,103.13 L448.20,103.00 L448.60,103.09 L449.00,102.91 L449.40,103.15 L449.80,103.33 L450.20,103.47 L450.60,103.40 L451.00,103.37 L451.40,103.33 L451.80,103.29 L452.20,103.37 L452.60,103.50 L453.00,103.37 L453.40,103.62 L453.80,103.43 L454.20,103.37 L454.60,103.51 L455.00,103.47 L455.40,103.55 L455.80,103.89 L456.20,103.78 L456.60,103.88 L457.00,104.04 L457.40,104.10 L457.80,103.94 L458.20,104.21 L458.60,104.15 L459.00,104.16 L459.40,104.27 L459.80,104.10 L460.20,104.24 L460.60,104.39 L461.00,104.55 L461.40,104.53 L461.80,104.65 L462.20,104.89 L462.60,105.06 L463.00,105.10 L463.40,105.28 L463.80,105.21 L464.20,105.35 L464.60,105.56 L465.00,105.63 L465.40,105.74 L465.80,106.14 L466.20,106.06 L466.60,106.10 L467.00,106.42 L467.40,106.71 L467.80,106.63 L468.20,106.90 L468.60,106.82 L469.00,106.93 L469.40,107.02 L469.80,107.19 L470.20,107.52 L470.60,107.25 L471.00,107.66 L471.40,107.41 L471.80,107.56 L472.20,107.73 L472.60,107.75 L473.00,107.75 L473.40,107.55 L473.80,107.82 L474.20,107.68 L474.60,108.13 L475.00,107.82 L475.40,107.89 L475.80,107.74 L476.20,107.84 L476.60,107.76 L477.00,108.05 L477.40,107.91 L477.80,108.03 L478.20,107.89 L478.60,107.93 L479.00,108.16 L479.40,107.91 L479.80,107.84 L480.20,108.13 L480.60,107.97 L481.00,108.08 L481.40,108.28 L481.80,108.11 L482.20,108.36 L482.60,108.22 L483.00,108.54 L483.40,108.58 L483.80,108.43 L484.20,108.56 L484.60,108.70 L485.00,109.19 L485.40,109.82 L485.80,110.20 L486.20,111.83 L486.60,115.55 L487.00,124.74 L487.40,118.95 L487.80,113.61 L488.20,110.61 L488.60,109.74 L489.00,109.17 L489.40,109.23 L489.80,108.72 L490.20,108.85 L490.60,108.99 L491.00,108.57 L491.40,108.51 L491.80,108.49 L492.20,108.22 L492.60,108.23 L493.00,108.26 L493.40,108.08 L493.80,108.03 L494.20,107.87 L494.60,107.89 L495.00,107.79 L495.40,107.90 L495.80,107.76 L496.20,107.59 L496.60,107.28 L497.00,107.61 L497.40,107.57 L497.80,107.33 L498.20,107.16 L498.60,107.23 L499.00,107.45 L499.40,107.18 L499.80,107.22 L500.20,107.28 L500.60,107.37 L501.00,107.20 L501.40,107.16 L501.80,107.09 L502.20,107.33 L502.60,107.24 L503.00,107.08 L503.40,106.90 L503.80,106.95 L504.20,107.10 L504.60,106.92 L505.00,107.09 L505.40,107.01 L505.80,106.98 L506.20,107.01 L506.60,106.97 L507.00,106.79 L507.40,106.84 L507.80,107.15 L508.20,106.71 L508.60,106.78 L509.00,106.96 L509.40,106.80 L509.80,106.71 L510.20,106.64 L510.60,106.85 L511.00,106.90 L511.40,106.94 L511.80,106.76 L512.20,106.87 L512.60,106.62 L513.00,106.75 L513.40,106.64 L513.80,106.73 L514.20,106.79 L514.60,106.82 L515.00,106.56 L515.40,106.82 L515.80,106.60 L516.20,106.52 L516.60,106.61 L517.00,106.44 L517.40,106.60 L517.80,106.62 L518.20,106.54 L518.60,106.61 L519.00,106.49 L519.40,106.51 L519.80,106.32 L520.20,106.47 L520.60,106.34 L521.00,106.36 L521.40,106.38 L521.80,106.38 L522.20,106.13 L522.60,106.11 L523.00,106.23 L523.40,106.29 L523.80,106.23 L524.20,106.26 L524.60,106.26 L525.00,106.12 L525.40,106.01 L525.80,105.83 L526.20,105.79 L526.60,105.79 L527.00,105.81 L527.40,105.74 L527.80,105.65 L528.20,105.56 L528.60,105.58 L529.00,105.43 L529.40,105.32 L529.80,105.18 L530.20,104.91 L530.60,104.66 L531.00,104.63 L531.40,104.40 L531.80,104.09 L532.20,103.82 L532.60,103.86 L533.00,103.17 L533.40,102.86 L533.80,102.52 L534.20,101.91 L534.60,101.59 L535.00,101.22 L535.40,100.46 L535.80,99.69 L536.20,98.92 L536.60,98.10 L537.00,97.46 L537.40,96.64 L537.80,96.00 L538.20,95.49 L538.40,95.31" fill="none" stroke="#3aa9e9" stroke-width="1.35" stroke-linejoin="round" stroke-linecap="round" />
<path d="M335.80,129.44 L336.20,129.45 L336.60,129.10 L337.00,129.46 L337.40,129.58 L337.80,129.43 L338.20,129.21 L338.60,129.12 L339.00,129.23 L339.40,129.05 L339.80,129.23 L340.20,129.05 L340.60,129.20 L341.00,129.23 L341.40,128.79 L341.80,129.05 L342.20,128.90 L342.60,128.79 L343.00,128.85 L343.40,128.87 L343.80,128.99 L344.20,128.65 L344.60,128.92 L345.00,129.01 L345.40,128.81 L345.80,128.77 L346.20,128.68 L346.60,128.51 L347.00,128.70 L347.40,128.66 L347.80,128.69 L348.20,128.91 L348.60,128.69 L349.00,128.67 L349.40,128.83 L349.80,128.52 L350.20,128.59 L350.60,128.74 L351.00,128.77 L351.40,129.01 L351.80,128.97 L352.20,129.31 L352.60,129.38 L353.00,129.43 L353.40,129.50 L353.80,129.90 L354.20,130.24 L354.60,130.39 L355.00,130.95 L355.40,131.42 L355.80,131.79 L356.20,132.39 L356.60,132.83 L357.00,133.16 L357.40,133.91 L357.80,134.49 L358.20,135.37 L358.60,135.92 L359.00,136.85 L359.40,137.45 L359.80,138.14 L360.20,138.55 L360.60,138.85 L361.00,139.67 L361.40,139.86 L361.80,140.45 L362.20,140.72 L362.60,141.12 L363.00,141.60 L363.40,141.73 L363.80,142.13 L364.20,142.02 L364.60,142.50 L365.00,142.55 L365.40,142.74 L365.80,142.92 L366.20,143.12 L366.60,143.42 L367.00,143.11 L367.40,143.43 L367.80,143.39 L368.20,143.64 L368.60,143.37 L369.00,143.27 L369.40,142.86 L369.80,142.63 L370.20,142.29 L370.60,141.75 L371.00,141.43 L371.40,140.84 L371.80,140.59 L372.20,140.17 L372.60,139.49 L373.00,139.19 L373.40,138.30 L373.80,137.84 L374.20,137.44 L374.60,137.13 L375.00,136.82 L375.40,136.44 L375.80,136.08 L376.20,135.82 L376.60,135.32 L377.00,134.88 L377.40,134.54 L377.80,134.61 L378.20,133.75 L378.60,133.70 L379.00,133.60 L379.40,133.19 L379.80,132.76 L380.20,132.59 L380.60,132.45 L381.00,132.26 L381.40,131.79 L381.80,131.78 L382.20,131.54 L382.60,131.46 L383.00,131.33 L383.40,130.95 L383.80,130.65 L384.20,130.72 L384.60,130.73 L385.00,130.45 L385.40,130.25 L385.80,130.37 L386.20,129.83 L386.60,129.93 L387.00,129.63 L387.40,129.59 L387.80,129.49 L388.20,129.55 L388.60,129.16 L389.00,129.11 L389.40,128.90 L389.80,129.07 L390.20,128.88 L390.60,128.92 L391.00,128.67 L391.40,128.69 L391.80,128.80 L392.20,128.60 L392.60,128.64 L393.00,128.58 L393.40,128.42 L393.80,128.22 L394.20,128.48 L394.60,128.34 L395.00,128.39 L395.40,127.99 L395.80,127.99 L396.20,127.89 L396.60,128.01 L397.00,128.20 L397.40,128.10 L397.80,127.99 L398.20,127.98 L398.60,128.02 L399.00,127.85 L399.40,127.90 L399.80,127.83 L400.20,127.52 L400.60,127.70 L401.00,127.87 L401.40,127.62 L401.80,127.62 L402.20,127.52 L402.60,127.50 L403.00,127.65 L403.40,127.45 L403.80,127.32 L404.20,127.03 L404.60,127.30 L405.00,127.09 L405.40,127.07 L405.80,127.34 L406.20,127.30 L406.60,126.94 L407.00,127.24 L407.40,127.15 L407.80,126.96 L408.20,127.11 L408.60,126.79 L409.00,126.80 L409.40,126.73 L409.80,126.74 L410.20,126.94 L410.60,126.64 L411.00,126.62 L411.40,126.61 L411.80,126.72 L412.20,126.62 L412.60,126.73 L413.00,126.51 L413.40,126.40 L413.80,126.47 L414.20,126.50 L414.60,126.35 L415.00,126.47 L415.40,126.62 L415.80,126.31 L416.20,126.35 L416.60,126.48 L417.00,126.22 L417.40,126.17 L417.80,126.11 L418.20,126.27 L418.60,126.26 L419.00,126.16 L419.40,126.16 L419.80,126.29 L420.20,126.22 L420.60,125.93 L421.00,126.09 L421.40,126.08 L421.80,126.14 L422.20,126.02 L422.60,125.96 L423.00,125.97 L423.40,125.80 L423.80,126.01 L424.20,125.93 L424.60,126.06 L425.00,125.87 L425.40,125.94 L425.80,125.88 L426.20,125.87 L426.60,126.09 L427.00,125.96 L427.40,126.08 L427.80,125.90 L428.20,126.06 L428.60,125.86 L429.00,126.02 L429.40,126.04 L429.80,126.19 L430.20,126.17 L430.60,126.15 L431.00,126.30 L431.40,126.25 L431.80,126.32 L432.20,126.37 L432.60,126.31 L433.00,126.31 L433.40,126.42 L433.80,126.36 L434.20,126.49 L434.60,126.62 L435.00,126.62 L435.40,126.51 L435.80,126.44 L436.20,126.62 L436.60,126.65 L437.00,126.84 L437.40,126.70 L437.80,126.76 L438.20,126.91 L438.60,126.80 L439.00,126.88 L439.40,127.14 L439.80,127.15 L440.20,127.09 L440.60,127.09 L441.00,126.98 L441.40,127.21 L441.80,127.20 L442.20,127.28 L442.60,127.24 L443.00,127.36 L443.40,127.40 L443.80,127.52 L444.20,127.72 L444.60,127.65 L445.00,127.48 L445.40,127.63 L445.80,127.62 L446.20,127.79 L446.60,128.02 L447.00,128.07 L447.40,128.02 L447.80,128.19 L448.20,128.14 L448.60,128.13 L449.00,128.20 L449.40,128.33 L449.80,128.67 L450.20,128.41 L450.60,128.78 L451.00,128.86 L451.40,128.74 L451.80,128.81 L452.20,128.80 L452.60,128.93 L453.00,129.06 L453.40,129.03 L453.80,129.19 L454.20,129.26 L454.60,129.20 L455.00,129.23 L455.40,129.22 L455.80,129.30 L456.20,129.15 L456.60,129.36 L457.00,129.36 L457.40,129.25 L457.80,129.63 L458.20,129.28 L458.60,129.31 L459.00,129.46 L459.40,129.22 L459.80,129.37 L460.20,129.30 L460.60,129.39 L461.00,129.51 L461.40,129.59 L461.80,129.70 L462.20,129.69 L462.60,129.77 L463.00,129.72 L463.40,129.63 L463.80,129.86 L464.20,129.70 L464.60,129.73 L465.00,130.04 L465.40,130.01 L465.80,130.01 L466.20,130.16 L466.60,130.27 L467.00,130.10 L467.40,130.37 L467.80,130.36 L468.20,130.65 L468.60,130.70 L469.00,131.11 L469.40,131.18 L469.80,131.20 L470.20,131.52 L470.60,131.80 L471.00,132.49 L471.40,133.12 L471.80,133.60 L472.20,133.67 L472.60,133.95 L473.00,133.92 L473.40,133.64 L473.80,133.41 L474.20,132.75 L474.60,132.62 L475.00,132.20 L475.40,132.14 L475.80,132.14 L476.20,132.18 L476.60,132.02 L477.00,132.12 L477.40,131.95 L477.80,131.92 L478.20,132.16 L478.60,132.09 L479.00,131.90 L479.40,131.99 L479.80,132.10 L480.20,132.28 L480.60,132.22 L481.00,132.19 L481.40,131.88 L481.80,132.08 L482.20,132.16 L482.60,132.21 L483.00,132.32 L483.40,132.40 L483.80,132.86 L484.20,133.10 L484.60,133.26 L485.00,133.58 L485.40,135.64 L485.80,139.08 L486.20,145.95 L486.60,159.00 L487.00,167.28 L487.40,155.03 L487.80,144.61 L488.20,140.26 L488.60,138.07 L489.00,136.74 L489.40,135.48 L489.80,134.49 L490.20,133.77 L490.60,132.87 L491.00,132.26 L491.40,132.14 L491.80,131.49 L492.20,131.29 L492.60,131.14 L493.00,130.83 L493.40,130.54 L493.80,130.78 L494.20,130.43 L494.60,130.34 L495.00,130.25 L495.40,130.07 L495.80,129.95 L496.20,130.01 L496.60,130.18 L497.00,129.90 L497.40,129.82 L497.80,129.48 L498.20,129.58 L498.60,129.38 L499.00,129.54 L499.40,129.35 L499.80,129.32 L500.20,129.24 L500.60,129.11 L501.00,128.92 L501.40,129.10 L501.80,128.78 L502.20,128.72 L502.60,128.73 L503.00,128.58 L503.40,128.57 L503.80,128.52 L504.20,128.29 L504.60,128.14 L505.00,127.98 L505.40,127.96 L505.80,127.53 L506.20,127.71 L506.60,127.50 L507.00,127.44 L507.40,127.60 L507.80,127.58 L508.20,127.73 L508.60,127.84 L509.00,127.49 L509.40,127.82 L509.80,128.13 L510.20,128.06 L510.60,128.20 L511.00,128.12 L511.40,128.04 L511.80,128.18 L512.20,128.52 L512.60,128.68 L513.00,128.61 L513.40,128.80 L513.80,129.01 L514.20,128.91 L514.60,129.22 L515.00,129.59 L515.40,129.79 L515.80,129.66 L516.20,130.04 L516.60,129.91 L517.00,130.03 L517.40,130.01 L517.80,130.54 L518.20,130.51 L518.60,130.97 L519.00,130.86 L519.40,130.98 L519.80,130.87 L520.20,131.40 L520.60,131.31 L521.00,131.46 L521.40,131.34 L521.80,131.84 L522.20,131.97 L522.60,131.90 L523.00,132.11 L523.40,132.26 L523.80,132.44 L524.20,132.44 L524.60,132.74 L525.00,132.60 L525.40,132.65 L525.80,132.75 L526.20,132.59 L526.60,132.88 L527.00,133.18 L527.40,133.18 L527.80,133.13 L528.20,133.34 L528.60,133.11 L529.00,133.35 L529.40,133.45 L529.80,133.35 L530.20,132.93 L530.60,132.78 L531.00,132.48 L531.40,131.75 L531.80,131.42 L532.20,130.71 L532.60,130.26 L533.00,130.19 L533.40,129.73 L533.80,129.35 L534.20,128.85 L534.60,128.47 L535.00,128.20 L535.40,127.90 L535.80,127.27 L536.20,126.78 L536.60,126.82 L537.00,126.32 L537.40,125.64 L537.80,123.69 L538.20,121.27 L538.20,121.00" fill="none" stroke="#111111" stroke-width="1.35" stroke-linejoin="round" stroke-linecap="round" />
<line x1="486.95" y1="133.50" x2="486.95" y2="168.20" stroke="#111" stroke-width="1.4" />
<rect x="335.5" y="9.5" width="203.00" height="163.50" fill="none" stroke="#1a1a1a" stroke-width="1.3"/>
<line x1="335.40" y1="173.00" x2="335.40" y2="175.60" stroke="#1a1a1a" stroke-width="1.2" />
<text x="335.40" y="186.9" font-size="11.0" text-anchor="middle" fill="#111" color="#111" font-weight="bold" >4000</text>
<line x1="393.47" y1="173.00" x2="393.47" y2="175.60" stroke="#1a1a1a" stroke-width="1.2" />
<text x="393.47" y="186.9" font-size="11.0" text-anchor="middle" fill="#111" color="#111" font-weight="bold" >3000</text>
<line x1="451.54" y1="173.00" x2="451.54" y2="175.60" stroke="#1a1a1a" stroke-width="1.2" />
<text x="451.54" y="186.9" font-size="11.0" text-anchor="middle" fill="#111" color="#111" font-weight="bold" >2000</text>
<line x1="509.61" y1="173.00" x2="509.61" y2="175.60" stroke="#1a1a1a" stroke-width="1.2" />
<text x="509.61" y="186.9" font-size="11.0" text-anchor="middle" fill="#111" color="#111" font-weight="bold" >1000</text>
<line x1="364.43" y1="173.00" x2="364.43" y2="174.60" stroke="#1a1a1a" stroke-width="1.0" />
<line x1="422.50" y1="173.00" x2="422.50" y2="174.60" stroke="#1a1a1a" stroke-width="1.0" />
<line x1="480.57" y1="173.00" x2="480.57" y2="174.60" stroke="#1a1a1a" stroke-width="1.0" />
<text x="419.4" y="22.0" font-size="7.7" text-anchor="middle" fill="#111" color="#111" font-weight="bold" >CNTs</text>
<text x="385.0" y="47.8" font-size="7.7" text-anchor="start" fill="#111" color="#111" font-weight="bold" >NiCo-LDH@CNTs-3%</text>
<text x="385.0" y="73.2" font-size="7.7" text-anchor="start" fill="#111" color="#111" font-weight="bold" >NiCo-LDH@CNTs-2.5%</text>
<text x="385.0" y="98.0" font-size="7.7" text-anchor="start" fill="#111" color="#111" font-weight="bold" >NiCo-LDH@CNTs-2%</text>
<text x="396.8" y="123.4" font-size="7.7" text-anchor="start" fill="#111" color="#111" font-weight="bold" >NiCo-LDH-150</text>
<text x="367.3" y="158.9" font-size="6.75" text-anchor="middle" fill="#111" color="#111" font-weight="bold" style="stroke-width:0.12px">O-H</text>
<text x="470.3" y="153.1" font-size="6.75" text-anchor="middle" fill="#111" color="#111" font-weight="bold" style="stroke-width:0.12px">H-O-H</text>
<text x="525.0" y="144.7" font-size="6.75" text-anchor="middle" fill="#111" color="#111" font-weight="bold" style="stroke-width:0.12px">M-O-M</text>
<text x="489.2" y="165.4" font-size="6.75" text-anchor="start" fill="#111" color="#111" font-weight="bold" style="stroke-width:0.12px">CO<tspan font-size="4.8" dy="1.6">3</tspan><tspan font-size="4.8" dy="-4.6">2-</tspan></text>
<text x="436.7" y="203.6" font-size="14" text-anchor="middle" fill="#111" color="#111" font-weight="bold" >Wavenumber (cm<tspan font-size="10" dy="-5.6">-1</tspan><tspan dy="5.6">)</tspan></text>
<text transform="translate(325.4,85.2) rotate(-90)" font-size="14.25" text-anchor="middle" fill="#111" color="#111" font-weight="bold" >Transmittance (%)</text>
<text x="285.9" y="19.6" font-size="18" text-anchor="start" fill="#111" color="#111" font-weight="bold" >(b)</text>
<path d="M81.53,366.38 L89.23,366.22 L91.46,366.18 L95.72,366.09 L102.82,365.96 L109.91,365.84 L117.00,365.72 L124.10,365.62 L131.19,365.53 L138.29,365.43 L145.38,365.33 L152.48,365.22 L159.57,365.11 L166.67,364.97 L173.56,364.82 L180.65,364.61 L187.75,364.36 L194.84,364.08 L201.94,363.77 L209.03,363.42 L216.13,363.02 L223.22,362.53 L230.31,361.97 L237.41,361.31 L244.50,360.52 L251.60,359.49 L259.10,357.96 L266.19,353.57 L272.88,343.43" fill="none" stroke="#111" stroke-width="1.5" stroke-linejoin="round" />
<path d="M272.88,343.43 L272.88,343.43 L267.00,349.41 L259.71,355.04 L251.60,357.50 L244.91,358.70 L237.61,359.72 L230.31,360.53 L223.62,361.15 L216.73,361.70 L209.64,362.22 L202.54,362.69 L195.45,363.13 L188.36,363.52 L181.26,363.89 L174.17,364.21 L167.07,364.47 L163.83,364.57" fill="none" stroke="#111" stroke-width="1.5" stroke-linejoin="round" />
<rect x="80.23" y="365.08" width="2.60" height="2.60" fill="#111"/>
<rect x="87.93" y="364.92" width="2.60" height="2.60" fill="#111"/>
<rect x="90.16" y="364.88" width="2.60" height="2.60" fill="#111"/>
<rect x="94.42" y="364.79" width="2.60" height="2.60" fill="#111"/>
<rect x="101.52" y="364.66" width="2.60" height="2.60" fill="#111"/>
<rect x="108.61" y="364.54" width="2.60" height="2.60" fill="#111"/>
<rect x="115.70" y="364.42" width="2.60" height="2.60" fill="#111"/>
<rect x="122.80" y="364.32" width="2.60" height="2.60" fill="#111"/>
<rect x="129.89" y="364.23" width="2.60" height="2.60" fill="#111"/>
<rect x="136.99" y="364.13" width="2.60" height="2.60" fill="#111"/>
<rect x="144.08" y="364.03" width="2.60" height="2.60" fill="#111"/>
<rect x="151.18" y="363.92" width="2.60" height="2.60" fill="#111"/>
<rect x="158.27" y="363.81" width="2.60" height="2.60" fill="#111"/>
<rect x="165.37" y="363.67" width="2.60" height="2.60" fill="#111"/>
<rect x="172.26" y="363.52" width="2.60" height="2.60" fill="#111"/>
<rect x="179.35" y="363.31" width="2.60" height="2.60" fill="#111"/>
<rect x="186.45" y="363.06" width="2.60" height="2.60" fill="#111"/>
<rect x="193.54" y="362.78" width="2.60" height="2.60" fill="#111"/>
<rect x="200.64" y="362.47" width="2.60" height="2.60" fill="#111"/>
<rect x="207.73" y="362.12" width="2.60" height="2.60" fill="#111"/>
<rect x="214.83" y="361.72" width="2.60" height="2.60" fill="#111"/>
<rect x="221.92" y="361.23" width="2.60" height="2.60" fill="#111"/>
<rect x="229.01" y="360.67" width="2.60" height="2.60" fill="#111"/>
<rect x="236.11" y="360.01" width="2.60" height="2.60" fill="#111"/>
<rect x="243.20" y="359.22" width="2.60" height="2.60" fill="#111"/>
<rect x="250.30" y="358.19" width="2.60" height="2.60" fill="#111"/>
<rect x="257.80" y="356.66" width="2.60" height="2.60" fill="#111"/>
<rect x="264.89" y="352.27" width="2.60" height="2.60" fill="#111"/>
<rect x="271.58" y="342.13" width="2.60" height="2.60" fill="#111"/>
<rect x="271.58" y="342.13" width="2.60" height="2.60" fill="#111"/>
<rect x="265.70" y="348.11" width="2.60" height="2.60" fill="#111"/>
<rect x="258.41" y="353.74" width="2.60" height="2.60" fill="#111"/>
<rect x="250.30" y="356.20" width="2.60" height="2.60" fill="#111"/>
<rect x="243.61" y="357.40" width="2.60" height="2.60" fill="#111"/>
<rect x="236.31" y="358.42" width="2.60" height="2.60" fill="#111"/>
<rect x="229.01" y="359.23" width="2.60" height="2.60" fill="#111"/>
<rect x="222.32" y="359.85" width="2.60" height="2.60" fill="#111"/>
<rect x="215.43" y="360.40" width="2.60" height="2.60" fill="#111"/>
<rect x="208.34" y="360.92" width="2.60" height="2.60" fill="#111"/>
<rect x="201.24" y="361.39" width="2.60" height="2.60" fill="#111"/>
<rect x="194.15" y="361.83" width="2.60" height="2.60" fill="#111"/>
<rect x="187.06" y="362.22" width="2.60" height="2.60" fill="#111"/>
<rect x="179.96" y="362.59" width="2.60" height="2.60" fill="#111"/>
<rect x="172.87" y="362.91" width="2.60" height="2.60" fill="#111"/>
<rect x="165.77" y="363.17" width="2.60" height="2.60" fill="#111"/>
<path d="M81.53,357.16 L89.23,355.96 L91.46,355.64 L95.72,355.06 L102.82,354.16 L109.91,353.33 L117.00,352.55 L124.10,351.83 L131.19,351.10 L138.29,350.26 L145.38,349.34 L152.48,348.39 L159.57,347.47 L166.67,346.51 L173.56,345.51 L180.65,344.43 L187.75,343.27 L194.84,341.96 L201.94,340.55 L209.03,338.93 L216.13,336.91 L223.22,333.97 L230.31,330.29 L237.41,325.87 L244.50,320.87 L251.60,315.27 L259.10,305.63 L266.19,285.57 L272.48,250.48" fill="none" stroke="#e61e82" stroke-width="1.5" stroke-linejoin="round" />
<path d="M272.48,250.48 L272.48,250.48 L267.00,269.11 L259.71,289.05 L251.60,304.09 L244.91,311.03 L237.61,317.06 L230.31,322.22 L223.62,324.67 L216.73,328.00 L209.64,331.44 L202.54,334.09 L195.45,336.40 L188.36,338.45 L181.26,340.10 L174.17,341.37 L167.07,343.22 L160.79,347.29" fill="none" stroke="#e61e82" stroke-width="1.5" stroke-linejoin="round" />
<circle cx="81.53" cy="357.16" r="1.43" fill="#e61e82"/>
<circle cx="89.23" cy="355.96" r="1.43" fill="#e61e82"/>
<circle cx="91.46" cy="355.64" r="1.43" fill="#e61e82"/>
<circle cx="95.72" cy="355.06" r="1.43" fill="#e61e82"/>
<circle cx="102.82" cy="354.16" r="1.43" fill="#e61e82"/>
<circle cx="109.91" cy="353.33" r="1.43" fill="#e61e82"/>
<circle cx="117.00" cy="352.55" r="1.43" fill="#e61e82"/>
<circle cx="124.10" cy="351.83" r="1.43" fill="#e61e82"/>
<circle cx="131.19" cy="351.10" r="1.43" fill="#e61e82"/>
<circle cx="138.29" cy="350.26" r="1.43" fill="#e61e82"/>
<circle cx="145.38" cy="349.34" r="1.43" fill="#e61e82"/>
<circle cx="152.48" cy="348.39" r="1.43" fill="#e61e82"/>
<circle cx="159.57" cy="347.47" r="1.43" fill="#e61e82"/>
<circle cx="166.67" cy="346.51" r="1.43" fill="#e61e82"/>
<circle cx="173.56" cy="345.51" r="1.43" fill="#e61e82"/>
<circle cx="180.65" cy="344.43" r="1.43" fill="#e61e82"/>
<circle cx="187.75" cy="343.27" r="1.43" fill="#e61e82"/>
<circle cx="194.84" cy="341.96" r="1.43" fill="#e61e82"/>
<circle cx="201.94" cy="340.55" r="1.43" fill="#e61e82"/>
<circle cx="209.03" cy="338.93" r="1.43" fill="#e61e82"/>
<circle cx="216.13" cy="336.91" r="1.43" fill="#e61e82"/>
<circle cx="223.22" cy="333.97" r="1.43" fill="#e61e82"/>
<circle cx="230.31" cy="330.29" r="1.43" fill="#e61e82"/>
<circle cx="237.41" cy="325.87" r="1.43" fill="#e61e82"/>
<circle cx="244.50" cy="320.87" r="1.43" fill="#e61e82"/>
<circle cx="251.60" cy="315.27" r="1.43" fill="#e61e82"/>
<circle cx="259.10" cy="305.63" r="1.43" fill="#e61e82"/>
<circle cx="266.19" cy="285.57" r="1.43" fill="#e61e82"/>
<circle cx="272.48" cy="250.48" r="1.43" fill="#e61e82"/>
<circle cx="272.48" cy="250.48" r="1.43" fill="#e61e82"/>
<circle cx="267.00" cy="269.11" r="1.43" fill="#e61e82"/>
<circle cx="259.71" cy="289.05" r="1.43" fill="#e61e82"/>
<circle cx="251.60" cy="304.09" r="1.43" fill="#e61e82"/>
<circle cx="244.91" cy="311.03" r="1.43" fill="#e61e82"/>
<circle cx="237.61" cy="317.06" r="1.43" fill="#e61e82"/>
<circle cx="230.31" cy="322.22" r="1.43" fill="#e61e82"/>
<circle cx="223.62" cy="324.67" r="1.43" fill="#e61e82"/>
<circle cx="216.73" cy="328.00" r="1.43" fill="#e61e82"/>
<circle cx="209.64" cy="331.44" r="1.43" fill="#e61e82"/>
<circle cx="202.54" cy="334.09" r="1.43" fill="#e61e82"/>
<circle cx="195.45" cy="336.40" r="1.43" fill="#e61e82"/>
<circle cx="188.36" cy="338.45" r="1.43" fill="#e61e82"/>
<circle cx="181.26" cy="340.10" r="1.43" fill="#e61e82"/>
<circle cx="174.17" cy="341.37" r="1.43" fill="#e61e82"/>
<circle cx="167.07" cy="343.22" r="1.43" fill="#e61e82"/>
<path d="M81.53,354.23 L89.23,352.76 L91.46,352.37 L95.72,351.67 L102.82,350.60 L109.91,349.55 L117.00,348.47 L124.10,347.40 L131.19,346.26 L138.29,345.00 L145.38,343.59 L152.48,342.18 L159.57,340.77 L166.67,339.45 L173.56,338.23 L180.65,336.91 L187.75,335.39 L194.84,333.64 L201.94,331.62 L209.03,329.25 L216.13,326.28 L223.22,322.76 L230.31,318.90 L237.41,314.72 L244.50,309.71 L251.60,302.93 L259.10,291.36 L266.19,271.30 L273.08,228.11" fill="none" stroke="#62bdf0" stroke-width="1.5" stroke-linejoin="round" />
<path d="M273.08,228.11 L273.08,228.11 L267.00,248.41 L259.71,268.78 L251.60,283.65 L244.91,291.54 L237.61,298.59 L230.31,303.48 L223.62,307.32 L216.73,310.56 L209.64,314.27 L202.54,318.05 L195.45,321.52 L188.36,324.35 L181.26,327.05 L174.17,330.40 L167.07,335.56 L160.79,340.54" fill="none" stroke="#62bdf0" stroke-width="1.5" stroke-linejoin="round" />
<path d="M81.53,352.55 L83.21,355.49 L79.85,355.49Z" fill="#62bdf0"/>
<path d="M89.23,351.08 L90.91,354.02 L87.55,354.02Z" fill="#62bdf0"/>
<path d="M91.46,350.69 L93.14,353.63 L89.78,353.63Z" fill="#62bdf0"/>
<path d="M95.72,349.99 L97.40,352.93 L94.04,352.93Z" fill="#62bdf0"/>
<path d="M102.82,348.92 L104.50,351.86 L101.14,351.86Z" fill="#62bdf0"/>
<path d="M109.91,347.87 L111.59,350.81 L108.23,350.81Z" fill="#62bdf0"/>
<path d="M117.00,346.79 L118.68,349.73 L115.32,349.73Z" fill="#62bdf0"/>
<path d="M124.10,345.72 L125.78,348.66 L122.42,348.66Z" fill="#62bdf0"/>
<path d="M131.19,344.58 L132.87,347.52 L129.51,347.52Z" fill="#62bdf0"/>
<path d="M138.29,343.32 L139.97,346.26 L136.61,346.26Z" fill="#62bdf0"/>
<path d="M145.38,341.91 L147.06,344.85 L143.70,344.85Z" fill="#62bdf0"/>
<path d="M152.48,340.50 L154.16,343.44 L150.80,343.44Z" fill="#62bdf0"/>
<path d="M159.57,339.09 L161.25,342.03 L157.89,342.03Z" fill="#62bdf0"/>
<path d="M166.67,337.77 L168.35,340.71 L164.99,340.71Z" fill="#62bdf0"/>
<path d="M173.56,336.55 L175.24,339.49 L171.88,339.49Z" fill="#62bdf0"/>
<path d="M180.65,335.23 L182.33,338.17 L178.97,338.17Z" fill="#62bdf0"/>
<path d="M187.75,333.71 L189.43,336.65 L186.07,336.65Z" fill="#62bdf0"/>
<path d="M194.84,331.96 L196.52,334.90 L193.16,334.90Z" fill="#62bdf0"/>
<path d="M201.94,329.94 L203.62,332.88 L200.26,332.88Z" fill="#62bdf0"/>
<path d="M209.03,327.57 L210.71,330.51 L207.35,330.51Z" fill="#62bdf0"/>
<path d="M216.13,324.60 L217.81,327.54 L214.45,327.54Z" fill="#62bdf0"/>
<path d="M223.22,321.08 L224.90,324.02 L221.54,324.02Z" fill="#62bdf0"/>
<path d="M230.31,317.22 L231.99,320.16 L228.63,320.16Z" fill="#62bdf0"/>
<path d="M237.41,313.04 L239.09,315.98 L235.73,315.98Z" fill="#62bdf0"/>
<path d="M244.50,308.03 L246.18,310.97 L242.82,310.97Z" fill="#62bdf0"/>
<path d="M251.60,301.25 L253.28,304.19 L249.92,304.19Z" fill="#62bdf0"/>
<path d="M259.10,289.68 L260.78,292.62 L257.42,292.62Z" fill="#62bdf0"/>
<path d="M266.19,269.62 L267.87,272.56 L264.51,272.56Z" fill="#62bdf0"/>
<path d="M273.08,226.43 L274.76,229.37 L271.40,229.37Z" fill="#62bdf0"/>
<path d="M273.08,226.43 L274.76,229.37 L271.40,229.37Z" fill="#62bdf0"/>
<path d="M267.00,246.73 L268.68,249.67 L265.32,249.67Z" fill="#62bdf0"/>
<path d="M259.71,267.10 L261.39,270.04 L258.03,270.04Z" fill="#62bdf0"/>
<path d="M251.60,281.97 L253.28,284.91 L249.92,284.91Z" fill="#62bdf0"/>
<path d="M244.91,289.86 L246.59,292.80 L243.23,292.80Z" fill="#62bdf0"/>
<path d="M237.61,296.91 L239.29,299.85 L235.93,299.85Z" fill="#62bdf0"/>
<path d="M230.31,301.80 L231.99,304.74 L228.63,304.74Z" fill="#62bdf0"/>
<path d="M223.62,305.64 L225.30,308.58 L221.94,308.58Z" fill="#62bdf0"/>
<path d="M216.73,308.88 L218.41,311.82 L215.05,311.82Z" fill="#62bdf0"/>
<path d="M209.64,312.59 L211.32,315.53 L207.96,315.53Z" fill="#62bdf0"/>
<path d="M202.54,316.37 L204.22,319.31 L200.86,319.31Z" fill="#62bdf0"/>
<path d="M195.45,319.84 L197.13,322.78 L193.77,322.78Z" fill="#62bdf0"/>
<path d="M188.36,322.67 L190.04,325.61 L186.68,325.61Z" fill="#62bdf0"/>
<path d="M181.26,325.37 L182.94,328.31 L179.58,328.31Z" fill="#62bdf0"/>
<path d="M174.17,328.72 L175.85,331.66 L172.49,331.66Z" fill="#62bdf0"/>
<path d="M167.07,333.88 L168.75,336.82 L165.39,336.82Z" fill="#62bdf0"/>
<path d="M81.53,353.07 L89.23,351.60 L91.46,351.21 L95.72,350.51 L102.82,349.44 L109.91,348.39 L117.00,347.33 L124.10,346.29 L131.19,345.18 L138.29,343.90 L145.38,342.43 L152.48,341.06 L159.57,339.86 L166.67,338.57 L173.56,337.22 L180.65,335.71 L187.75,334.00 L194.84,332.05 L201.94,329.83 L209.03,327.30 L216.13,324.14 L223.22,320.87 L230.31,317.37 L237.41,313.08 L244.50,307.78 L251.60,301.00 L259.10,289.05 L266.19,269.38 L272.68,223.48" fill="none" stroke="#17861c" stroke-width="1.5" stroke-linejoin="round" />
<path d="M272.68,223.48 L272.68,223.48 L267.00,239.29 L259.71,269.38 L251.60,289.43 L244.91,297.53 L237.61,304.47 L230.31,309.45 L223.62,312.67 L216.73,315.66 L209.64,319.10 L202.54,322.34 L195.45,325.23 L188.36,327.86 L181.26,330.02 L174.17,331.74 L167.07,335.13 L160.79,339.19" fill="none" stroke="#17861c" stroke-width="1.5" stroke-linejoin="round" />
<path d="M81.53,354.75 L83.21,351.81 L79.85,351.81Z" fill="#17861c"/>
<path d="M89.23,353.28 L90.91,350.34 L87.55,350.34Z" fill="#17861c"/>
<path d="M91.46,352.89 L93.14,349.95 L89.78,349.95Z" fill="#17861c"/>
<path d="M95.72,352.19 L97.40,349.25 L94.04,349.25Z" fill="#17861c"/>
<path d="M102.82,351.12 L104.50,348.18 L101.14,348.18Z" fill="#17861c"/>
<path d="M109.91,350.07 L111.59,347.13 L108.23,347.13Z" fill="#17861c"/>
<path d="M117.00,349.01 L118.68,346.07 L115.32,346.07Z" fill="#17861c"/>
<path d="M124.10,347.97 L125.78,345.03 L122.42,345.03Z" fill="#17861c"/>
<path d="M131.19,346.86 L132.87,343.92 L129.51,343.92Z" fill="#17861c"/>
<path d="M138.29,345.58 L139.97,342.64 L136.61,342.64Z" fill="#17861c"/>
<path d="M145.38,344.11 L147.06,341.17 L143.70,341.17Z" fill="#17861c"/>
<path d="M152.48,342.74 L154.16,339.80 L150.80,339.80Z" fill="#17861c"/>
<path d="M159.57,341.54 L161.25,338.60 L157.89,338.60Z" fill="#17861c"/>
<path d="M166.67,340.25 L168.35,337.31 L164.99,337.31Z" fill="#17861c"/>
<path d="M173.56,338.90 L175.24,335.96 L171.88,335.96Z" fill="#17861c"/>
<path d="M180.65,337.39 L182.33,334.45 L178.97,334.45Z" fill="#17861c"/>
<path d="M187.75,335.68 L189.43,332.74 L186.07,332.74Z" fill="#17861c"/>
<path d="M194.84,333.73 L196.52,330.79 L193.16,330.79Z" fill="#17861c"/>
<path d="M201.94,331.51 L203.62,328.57 L200.26,328.57Z" fill="#17861c"/>
<path d="M209.03,328.98 L210.71,326.04 L207.35,326.04Z" fill="#17861c"/>
<path d="M216.13,325.82 L217.81,322.88 L214.45,322.88Z" fill="#17861c"/>
<path d="M223.22,322.55 L224.90,319.61 L221.54,319.61Z" fill="#17861c"/>
<path d="M230.31,319.05 L231.99,316.11 L228.63,316.11Z" fill="#17861c"/>
<path d="M237.41,314.76 L239.09,311.82 L235.73,311.82Z" fill="#17861c"/>
<path d="M244.50,309.46 L246.18,306.52 L242.82,306.52Z" fill="#17861c"/>
<path d="M251.60,302.68 L253.28,299.74 L249.92,299.74Z" fill="#17861c"/>
<path d="M259.10,290.73 L260.78,287.79 L257.42,287.79Z" fill="#17861c"/>
<path d="M266.19,271.06 L267.87,268.12 L264.51,268.12Z" fill="#17861c"/>
<path d="M272.68,225.16 L274.36,222.22 L271.00,222.22Z" fill="#17861c"/>
<path d="M272.68,225.16 L274.36,222.22 L271.00,222.22Z" fill="#17861c"/>
<path d="M267.00,240.97 L268.68,238.03 L265.32,238.03Z" fill="#17861c"/>
<path d="M259.71,271.06 L261.39,268.12 L258.03,268.12Z" fill="#17861c"/>
<path d="M251.60,291.11 L253.28,288.17 L249.92,288.17Z" fill="#17861c"/>
<path d="M244.91,299.21 L246.59,296.27 L243.23,296.27Z" fill="#17861c"/>
<path d="M237.61,306.15 L239.29,303.21 L235.93,303.21Z" fill="#17861c"/>
<path d="M230.31,311.13 L231.99,308.19 L228.63,308.19Z" fill="#17861c"/>
<path d="M223.62,314.35 L225.30,311.41 L221.94,311.41Z" fill="#17861c"/>
<path d="M216.73,317.34 L218.41,314.40 L215.05,314.40Z" fill="#17861c"/>
<path d="M209.64,320.78 L211.32,317.84 L207.96,317.84Z" fill="#17861c"/>
<path d="M202.54,324.02 L204.22,321.08 L200.86,321.08Z" fill="#17861c"/>
<path d="M195.45,326.91 L197.13,323.97 L193.77,323.97Z" fill="#17861c"/>
<path d="M188.36,329.54 L190.04,326.60 L186.68,326.60Z" fill="#17861c"/>
<path d="M181.26,331.70 L182.94,328.76 L179.58,328.76Z" fill="#17861c"/>
<path d="M174.17,333.42 L175.85,330.48 L172.49,330.48Z" fill="#17861c"/>
<path d="M167.07,336.81 L168.75,333.87 L165.39,333.87Z" fill="#17861c"/>
<rect x="71.5" y="214.5" width="203.30" height="164.00" fill="none" stroke="#1a1a1a" stroke-width="1.3"/>
<line x1="71.50" y1="368.50" x2="68.70" y2="368.50" stroke="#1a1a1a" stroke-width="1.2" />
<text x="65.5" y="372.30" font-size="10.8" text-anchor="end" fill="#111" color="#111" font-weight="bold" >0</text>
<line x1="71.50" y1="329.93" x2="68.70" y2="329.93" stroke="#1a1a1a" stroke-width="1.2" />
<text x="65.5" y="333.73" font-size="10.8" text-anchor="end" fill="#111" color="#111" font-weight="bold" >100</text>
<line x1="71.50" y1="291.36" x2="68.70" y2="291.36" stroke="#1a1a1a" stroke-width="1.2" />
<text x="65.5" y="295.16" font-size="10.8" text-anchor="end" fill="#111" color="#111" font-weight="bold" >200</text>
<line x1="71.50" y1="252.79" x2="68.70" y2="252.79" stroke="#1a1a1a" stroke-width="1.2" />
<text x="65.5" y="256.59" font-size="10.8" text-anchor="end" fill="#111" color="#111" font-weight="bold" >300</text>
<line x1="71.50" y1="214.22" x2="68.70" y2="214.22" stroke="#1a1a1a" stroke-width="1.2" />
<text x="65.5" y="218.02" font-size="10.8" text-anchor="end" fill="#111" color="#111" font-weight="bold" >400</text>
<line x1="71.50" y1="349.21" x2="69.90" y2="349.21" stroke="#1a1a1a" stroke-width="1.0" />
<line x1="71.50" y1="310.64" x2="69.90" y2="310.64" stroke="#1a1a1a" stroke-width="1.0" />
<line x1="71.50" y1="272.07" x2="69.90" y2="272.07" stroke="#1a1a1a" stroke-width="1.0" />
<line x1="71.50" y1="233.50" x2="69.90" y2="233.50" stroke="#1a1a1a" stroke-width="1.0" />
<line x1="71.60" y1="378.50" x2="71.60" y2="381.10" stroke="#1a1a1a" stroke-width="1.2" />
<text x="71.60" y="392.5" font-size="10.9" text-anchor="middle" fill="#111" color="#111" font-weight="bold" >0.0</text>
<line x1="112.14" y1="378.50" x2="112.14" y2="381.10" stroke="#1a1a1a" stroke-width="1.2" />
<text x="112.14" y="392.5" font-size="10.9" text-anchor="middle" fill="#111" color="#111" font-weight="bold" >0.2</text>
<line x1="152.68" y1="378.50" x2="152.68" y2="381.10" stroke="#1a1a1a" stroke-width="1.2" />
<text x="152.68" y="392.5" font-size="10.9" text-anchor="middle" fill="#111" color="#111" font-weight="bold" >0.4</text>
<line x1="193.22" y1="378.50" x2="193.22" y2="381.10" stroke="#1a1a1a" stroke-width="1.2" />
<text x="193.22" y="392.5" font-size="10.9" text-anchor="middle" fill="#111" color="#111" font-weight="bold" >0.6</text>
<line x1="233.76" y1="378.50" x2="233.76" y2="381.10" stroke="#1a1a1a" stroke-width="1.2" />
<text x="233.76" y="392.5" font-size="10.9" text-anchor="middle" fill="#111" color="#111" font-weight="bold" >0.8</text>
<line x1="274.30" y1="378.50" x2="274.30" y2="381.10" stroke="#1a1a1a" stroke-width="1.2" />
<text x="274.30" y="392.5" font-size="10.9" text-anchor="middle" fill="#111" color="#111" font-weight="bold" >1.0</text>
<line x1="91.87" y1="378.50" x2="91.87" y2="380.10" stroke="#1a1a1a" stroke-width="1.0" />
<line x1="132.41" y1="378.50" x2="132.41" y2="380.10" stroke="#1a1a1a" stroke-width="1.0" />
<line x1="172.95" y1="378.50" x2="172.95" y2="380.10" stroke="#1a1a1a" stroke-width="1.0" />
<line x1="213.49" y1="378.50" x2="213.49" y2="380.10" stroke="#1a1a1a" stroke-width="1.0" />
<line x1="254.03" y1="378.50" x2="254.03" y2="380.10" stroke="#1a1a1a" stroke-width="1.0" />
<line x1="75.80" y1="222.60" x2="94.20" y2="222.60" stroke="#17861c" stroke-width="1.45" />
<path d="M84.90,224.04 L86.34,221.52 L83.46,221.52Z" fill="#17861c"/>
<text x="95.5" y="225.10" font-size="7.8" text-anchor="start" fill="#111" color="#111" font-weight="bold" >NiCo-LDH@CNTs-3%</text>
<line x1="75.80" y1="232.30" x2="94.20" y2="232.30" stroke="#e61e82" stroke-width="1.45" />
<circle cx="84.90" cy="232.30" r="1.32" fill="#e61e82"/>
<text x="95.5" y="234.80" font-size="7.8" text-anchor="start" fill="#111" color="#111" font-weight="bold" >NiCo-LDH@CNTs-2.5%</text>
<line x1="75.80" y1="242.00" x2="94.20" y2="242.00" stroke="#62bdf0" stroke-width="1.45" />
<path d="M84.90,240.56 L86.34,243.08 L83.46,243.08Z" fill="#62bdf0"/>
<text x="95.5" y="244.50" font-size="7.8" text-anchor="start" fill="#111" color="#111" font-weight="bold" >NiCo-LDH@CNTs-2%</text>
<line x1="75.80" y1="251.70" x2="94.20" y2="251.70" stroke="#333" stroke-width="1.45" />
<rect x="83.70" y="250.50" width="2.40" height="2.40" fill="#111"/>
<text x="95.5" y="254.20" font-size="7.8" text-anchor="start" fill="#111" color="#111" font-weight="bold" >NiCo-LDH-150</text>
<text x="172.3" y="409.0" font-size="13.8" text-anchor="middle" fill="#111" color="#111" font-weight="bold" >Relative Pressure (P/P<tspan font-size="10" dy="3.6">0</tspan><tspan dy="-3.6">)</tspan></text>
<text transform="translate(41.4,296.8) rotate(-90)" font-size="14.3" text-anchor="middle" fill="#111" color="#111" font-weight="bold" >Volume adsorded (cm<tspan font-size="9.5" dy="-5.4">3</tspan><tspan dy="5.4"> • g</tspan><tspan font-size="9.5" dy="-5.4">-1</tspan><tspan dy="5.4">)</tspan></text>
<text x="4.8" y="220.6" font-size="18" text-anchor="start" fill="#111" color="#111" font-weight="bold" >(c)</text>
<path d="M359.40,363.20 L363.50,349.60 L368.10,364.80 L373.50,364.80 L379.70,364.80 L386.90,364.80 L395.00,364.80 L406.90,364.90 L420.00,365.30 L437.70,365.60 L454.90,365.70 L476.70,366.00 L522.30,366.50" fill="none" stroke="#111" stroke-width="1.35" stroke-linejoin="round" />
<rect x="358.05" y="361.85" width="2.70" height="2.70" fill="#111"/>
<rect x="362.15" y="348.25" width="2.70" height="2.70" fill="#111"/>
<rect x="366.75" y="363.45" width="2.70" height="2.70" fill="#111"/>
<rect x="372.15" y="363.45" width="2.70" height="2.70" fill="#111"/>
<rect x="378.35" y="363.45" width="2.70" height="2.70" fill="#111"/>
<rect x="385.55" y="363.45" width="2.70" height="2.70" fill="#111"/>
<rect x="393.65" y="363.45" width="2.70" height="2.70" fill="#111"/>
<rect x="405.55" y="363.55" width="2.70" height="2.70" fill="#111"/>
<rect x="418.65" y="363.95" width="2.70" height="2.70" fill="#111"/>
<rect x="436.35" y="364.25" width="2.70" height="2.70" fill="#111"/>
<rect x="453.55" y="364.35" width="2.70" height="2.70" fill="#111"/>
<rect x="475.35" y="364.65" width="2.70" height="2.70" fill="#111"/>
<rect x="520.95" y="365.15" width="2.70" height="2.70" fill="#111"/>
<path d="M337.00,356.10 L340.00,355.80 L343.00,355.50 L346.00,355.30 L349.80,355.10 L353.90,344.90 L361.10,224.80 L366.50,324.20 L371.60,326.20 L378.70,329.70 L386.80,334.30 L395.00,338.40 L405.00,343.60 L419.50,348.00 L435.00,351.30 L452.70,353.70 L485.40,355.90 L534.50,357.20" fill="none" stroke="#62bdf0" stroke-width="1.35" stroke-linejoin="round" />
<path d="M337.00,354.48 L338.62,357.31 L335.38,357.31Z" fill="#62bdf0"/>
<path d="M340.00,354.18 L341.62,357.01 L338.38,357.01Z" fill="#62bdf0"/>
<path d="M343.00,353.88 L344.62,356.71 L341.38,356.71Z" fill="#62bdf0"/>
<path d="M346.00,353.68 L347.62,356.51 L344.38,356.51Z" fill="#62bdf0"/>
<path d="M349.80,353.48 L351.42,356.31 L348.18,356.31Z" fill="#62bdf0"/>
<path d="M353.90,343.28 L355.52,346.11 L352.28,346.11Z" fill="#62bdf0"/>
<path d="M361.10,223.18 L362.72,226.02 L359.48,226.02Z" fill="#62bdf0"/>
<path d="M366.50,322.58 L368.12,325.41 L364.88,325.41Z" fill="#62bdf0"/>
<path d="M371.60,324.58 L373.22,327.41 L369.98,327.41Z" fill="#62bdf0"/>
<path d="M378.70,328.08 L380.32,330.91 L377.08,330.91Z" fill="#62bdf0"/>
<path d="M386.80,332.68 L388.42,335.51 L385.18,335.51Z" fill="#62bdf0"/>
<path d="M395.00,336.78 L396.62,339.61 L393.38,339.61Z" fill="#62bdf0"/>
<path d="M405.00,341.98 L406.62,344.81 L403.38,344.81Z" fill="#62bdf0"/>
<path d="M419.50,346.38 L421.12,349.21 L417.88,349.21Z" fill="#62bdf0"/>
<path d="M435.00,349.68 L436.62,352.51 L433.38,352.51Z" fill="#62bdf0"/>
<path d="M452.70,352.08 L454.32,354.91 L451.08,354.91Z" fill="#62bdf0"/>
<path d="M485.40,354.28 L487.02,357.11 L483.78,357.11Z" fill="#62bdf0"/>
<path d="M534.50,355.58 L536.12,358.41 L532.88,358.41Z" fill="#62bdf0"/>
<path d="M337.00,354.70 L340.00,354.70 L343.00,354.70 L346.00,354.70 L349.80,354.70 L353.90,351.40 L357.40,321.50 L362.00,314.80 L366.10,344.50 L371.60,344.50 L378.70,344.60 L386.80,344.90 L395.00,345.30 L405.00,346.80 L419.50,349.60 L435.00,352.40 L452.70,354.40 L485.40,356.70 L538.60,358.60" fill="none" stroke="#e61e82" stroke-width="1.35" stroke-linejoin="round" />
<circle cx="337.00" cy="354.70" r="1.49" fill="#e61e82"/>
<circle cx="340.00" cy="354.70" r="1.49" fill="#e61e82"/>
<circle cx="343.00" cy="354.70" r="1.49" fill="#e61e82"/>
<circle cx="346.00" cy="354.70" r="1.49" fill="#e61e82"/>
<circle cx="349.80" cy="354.70" r="1.49" fill="#e61e82"/>
<circle cx="353.90" cy="351.40" r="1.49" fill="#e61e82"/>
<circle cx="357.40" cy="321.50" r="1.49" fill="#e61e82"/>
<circle cx="362.00" cy="314.80" r="1.49" fill="#e61e82"/>
<circle cx="366.10" cy="344.50" r="1.49" fill="#e61e82"/>
<circle cx="371.60" cy="344.50" r="1.49" fill="#e61e82"/>
<circle cx="378.70" cy="344.60" r="1.49" fill="#e61e82"/>
<circle cx="386.80" cy="344.90" r="1.49" fill="#e61e82"/>
<circle cx="395.00" cy="345.30" r="1.49" fill="#e61e82"/>
<circle cx="405.00" cy="346.80" r="1.49" fill="#e61e82"/>
<circle cx="419.50" cy="349.60" r="1.49" fill="#e61e82"/>
<circle cx="435.00" cy="352.40" r="1.49" fill="#e61e82"/>
<circle cx="452.70" cy="354.40" r="1.49" fill="#e61e82"/>
<circle cx="485.40" cy="356.70" r="1.49" fill="#e61e82"/>
<circle cx="538.60" cy="358.60" r="1.49" fill="#e61e82"/>
<path d="M337.00,346.50 L340.00,345.70 L343.00,345.50 L346.00,345.70 L349.80,345.70 L353.90,333.10 L357.80,267.50 L362.40,301.20 L366.10,329.70 L371.60,331.70 L378.70,336.40 L386.80,340.40 L395.00,343.90 L405.00,346.90 L419.50,349.90 L435.00,351.80 L452.70,354.00 L485.40,356.20 L534.50,357.40" fill="none" stroke="#17861c" stroke-width="1.35" stroke-linejoin="round" />
<path d="M337.00,348.12 L338.62,345.29 L335.38,345.29Z" fill="#17861c"/>
<path d="M340.00,347.32 L341.62,344.49 L338.38,344.49Z" fill="#17861c"/>
<path d="M343.00,347.12 L344.62,344.29 L341.38,344.29Z" fill="#17861c"/>
<path d="M346.00,347.32 L347.62,344.49 L344.38,344.49Z" fill="#17861c"/>
<path d="M349.80,347.32 L351.42,344.49 L348.18,344.49Z" fill="#17861c"/>
<path d="M353.90,334.72 L355.52,331.89 L352.28,331.89Z" fill="#17861c"/>
<path d="M357.80,269.12 L359.42,266.29 L356.18,266.29Z" fill="#17861c"/>
<path d="M362.40,302.82 L364.02,299.99 L360.78,299.99Z" fill="#17861c"/>
<path d="M366.10,331.32 L367.72,328.49 L364.48,328.49Z" fill="#17861c"/>
<path d="M371.60,333.32 L373.22,330.49 L369.98,330.49Z" fill="#17861c"/>
<path d="M378.70,338.02 L380.32,335.19 L377.08,335.19Z" fill="#17861c"/>
<path d="M386.80,342.02 L388.42,339.19 L385.18,339.19Z" fill="#17861c"/>
<path d="M395.00,345.52 L396.62,342.69 L393.38,342.69Z" fill="#17861c"/>
<path d="M405.00,348.52 L406.62,345.69 L403.38,345.69Z" fill="#17861c"/>
<path d="M419.50,351.52 L421.12,348.69 L417.88,348.69Z" fill="#17861c"/>
<path d="M435.00,353.42 L436.62,350.59 L433.38,350.59Z" fill="#17861c"/>
<path d="M452.70,355.62 L454.32,352.79 L451.08,352.79Z" fill="#17861c"/>
<path d="M485.40,357.82 L487.02,354.99 L483.78,354.99Z" fill="#17861c"/>
<path d="M534.50,359.02 L536.12,356.19 L532.88,356.19Z" fill="#17861c"/>
<rect x="336.6" y="215.5" width="202.90" height="163.50" fill="none" stroke="#1a1a1a" stroke-width="1.3"/>
<line x1="336.60" y1="368.30" x2="333.80" y2="368.30" stroke="#1a1a1a" stroke-width="1.2" />
<text x="330.8" y="371.60" font-size="10.8" text-anchor="end" fill="#111" color="#111" font-weight="bold" >0.00</text>
<line x1="336.60" y1="317.20" x2="333.80" y2="317.20" stroke="#1a1a1a" stroke-width="1.2" />
<text x="330.8" y="320.50" font-size="10.8" text-anchor="end" fill="#111" color="#111" font-weight="bold" >0.05</text>
<line x1="336.60" y1="266.10" x2="333.80" y2="266.10" stroke="#1a1a1a" stroke-width="1.2" />
<text x="330.8" y="269.40" font-size="10.8" text-anchor="end" fill="#111" color="#111" font-weight="bold" >0.10</text>
<line x1="336.60" y1="215.00" x2="333.80" y2="215.00" stroke="#1a1a1a" stroke-width="1.2" />
<text x="330.8" y="218.30" font-size="10.8" text-anchor="end" fill="#111" color="#111" font-weight="bold" >0.15</text>
<line x1="336.60" y1="342.75" x2="335.00" y2="342.75" stroke="#1a1a1a" stroke-width="1.0" />
<line x1="336.60" y1="291.65" x2="335.00" y2="291.65" stroke="#1a1a1a" stroke-width="1.0" />
<line x1="336.60" y1="240.55" x2="335.00" y2="240.55" stroke="#1a1a1a" stroke-width="1.0" />
<line x1="337.00" y1="379.00" x2="337.00" y2="381.60" stroke="#1a1a1a" stroke-width="1.2" />
<text x="337.00" y="393.0" font-size="10.9" text-anchor="middle" fill="#111" color="#111" font-weight="bold" >2</text>
<line x1="365.91" y1="379.00" x2="365.91" y2="381.60" stroke="#1a1a1a" stroke-width="1.2" />
<text x="365.91" y="393.0" font-size="10.9" text-anchor="middle" fill="#111" color="#111" font-weight="bold" >4</text>
<line x1="394.83" y1="379.00" x2="394.83" y2="381.60" stroke="#1a1a1a" stroke-width="1.2" />
<text x="394.83" y="393.0" font-size="10.9" text-anchor="middle" fill="#111" color="#111" font-weight="bold" >6</text>
<line x1="423.74" y1="379.00" x2="423.74" y2="381.60" stroke="#1a1a1a" stroke-width="1.2" />
<text x="423.74" y="393.0" font-size="10.9" text-anchor="middle" fill="#111" color="#111" font-weight="bold" >8</text>
<line x1="452.66" y1="379.00" x2="452.66" y2="381.60" stroke="#1a1a1a" stroke-width="1.2" />
<text x="452.66" y="393.0" font-size="10.9" text-anchor="middle" fill="#111" color="#111" font-weight="bold" >10</text>
<line x1="481.57" y1="379.00" x2="481.57" y2="381.60" stroke="#1a1a1a" stroke-width="1.2" />
<text x="481.57" y="393.0" font-size="10.9" text-anchor="middle" fill="#111" color="#111" font-weight="bold" >12</text>
<line x1="510.48" y1="379.00" x2="510.48" y2="381.60" stroke="#1a1a1a" stroke-width="1.2" />
<text x="510.48" y="393.0" font-size="10.9" text-anchor="middle" fill="#111" color="#111" font-weight="bold" >14</text>
<line x1="539.40" y1="379.00" x2="539.40" y2="381.60" stroke="#1a1a1a" stroke-width="1.2" />
<text x="539.40" y="393.0" font-size="10.9" text-anchor="middle" fill="#111" color="#111" font-weight="bold" >16</text>
<line x1="351.46" y1="379.00" x2="351.46" y2="380.60" stroke="#1a1a1a" stroke-width="1.0" />
<line x1="380.37" y1="379.00" x2="380.37" y2="380.60" stroke="#1a1a1a" stroke-width="1.0" />
<line x1="409.28" y1="379.00" x2="409.28" y2="380.60" stroke="#1a1a1a" stroke-width="1.0" />
<line x1="438.20" y1="379.00" x2="438.20" y2="380.60" stroke="#1a1a1a" stroke-width="1.0" />
<line x1="467.11" y1="379.00" x2="467.11" y2="380.60" stroke="#1a1a1a" stroke-width="1.0" />
<line x1="496.03" y1="379.00" x2="496.03" y2="380.60" stroke="#1a1a1a" stroke-width="1.0" />
<line x1="524.94" y1="379.00" x2="524.94" y2="380.60" stroke="#1a1a1a" stroke-width="1.0" />
<line x1="431.30" y1="224.60" x2="449.50" y2="224.60" stroke="#17861c" stroke-width="1.45" />
<path d="M440.40,226.04 L441.84,223.52 L438.96,223.52Z" fill="#17861c"/>
<text x="451.2" y="227.20" font-size="7.7" text-anchor="start" fill="#111" color="#111" font-weight="bold" >NiCo-LDH@CNTs-3%</text>
<line x1="431.30" y1="234.30" x2="449.50" y2="234.30" stroke="#e61e82" stroke-width="1.45" />
<circle cx="440.40" cy="234.30" r="1.32" fill="#e61e82"/>
<text x="451.2" y="236.90" font-size="7.7" text-anchor="start" fill="#111" color="#111" font-weight="bold" >NiCo-LDH@CNTs-2.5%</text>
<line x1="431.30" y1="244.00" x2="449.50" y2="244.00" stroke="#62bdf0" stroke-width="1.45" />
<path d="M440.40,242.56 L441.84,245.08 L438.96,245.08Z" fill="#62bdf0"/>
<text x="451.2" y="246.60" font-size="7.7" text-anchor="start" fill="#111" color="#111" font-weight="bold" >NiCo-LDH@CNTs-2%</text>
<line x1="431.30" y1="253.70" x2="449.50" y2="253.70" stroke="#333" stroke-width="1.45" />
<rect x="439.20" y="252.50" width="2.40" height="2.40" fill="#111"/>
<text x="451.2" y="256.30" font-size="7.7" text-anchor="start" fill="#111" color="#111" font-weight="bold" >NiCo-LDH-150</text>
<text x="432.9" y="409.0" font-size="14" text-anchor="middle" fill="#111" color="#111" font-weight="bold" >Pore size (nm)</text>
<text transform="translate(299.8,297.0) rotate(-90)" font-size="14" text-anchor="middle" fill="#111" color="#111" font-weight="bold" >d<tspan font-size="9.5" dy="2.8">vp</tspan><tspan dy="-2.8">/d</tspan><tspan font-size="9.5" dy="2.8">dp</tspan><tspan dy="-2.8"> (cm</tspan><tspan font-size="9" dy="-5">3</tspan><tspan dy="5">/g/nm)</tspan></text>
<text x="285.9" y="222.6" font-size="18" text-anchor="start" fill="#111" color="#111" font-weight="bold" >(d)</text>
</svg>
</body></html>
